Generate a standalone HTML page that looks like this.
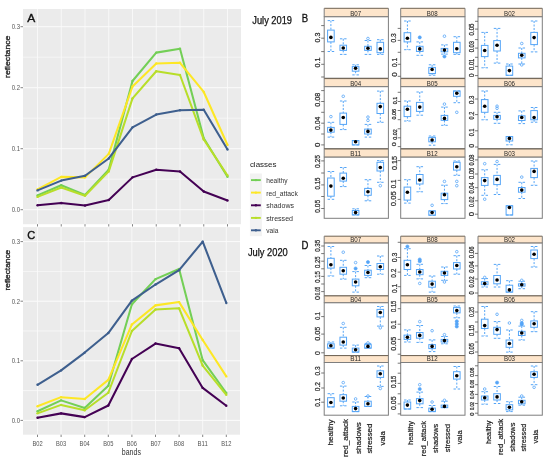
<!DOCTYPE html>
<html><head><meta charset="utf-8"><style>
html,body{margin:0;padding:0;background:#fff;width:550px;height:461px;overflow:hidden}
svg{display:block;font-family:"Liberation Sans", sans-serif;will-change:transform}
</style></head><body>
<svg width="550" height="461" viewBox="0 0 550 461">
<rect width="550" height="461" fill="#fff"/>
<rect x="23" y="9" width="218" height="215.2" fill="#EBEBEB"/>
<line x1="23" x2="241" y1="179.20" y2="179.20" stroke="#F9F9F9" stroke-width="0.8"/>
<line x1="23" x2="241" y1="118.20" y2="118.20" stroke="#F9F9F9" stroke-width="0.8"/>
<line x1="23" x2="241" y1="57.20" y2="57.20" stroke="#F9F9F9" stroke-width="0.8"/>
<line x1="23" x2="241" y1="209.70" y2="209.70" stroke="#FCFCFC" stroke-width="1"/>
<line x1="20.5" x2="23" y1="209.70" y2="209.70" stroke="#333" stroke-width="0.6"/>
<text x="20.00" y="212.10" font-size="6.8" fill="#555" text-anchor="end" textLength="8.30" lengthAdjust="spacingAndGlyphs" >0.0</text>
<line x1="23" x2="241" y1="148.70" y2="148.70" stroke="#FCFCFC" stroke-width="1"/>
<line x1="20.5" x2="23" y1="148.70" y2="148.70" stroke="#333" stroke-width="0.6"/>
<text x="20.00" y="151.10" font-size="6.8" fill="#555" text-anchor="end" textLength="8.30" lengthAdjust="spacingAndGlyphs" >0.1</text>
<line x1="23" x2="241" y1="87.70" y2="87.70" stroke="#FCFCFC" stroke-width="1"/>
<line x1="20.5" x2="23" y1="87.70" y2="87.70" stroke="#333" stroke-width="0.6"/>
<text x="20.00" y="90.10" font-size="6.8" fill="#555" text-anchor="end" textLength="8.30" lengthAdjust="spacingAndGlyphs" >0.2</text>
<line x1="23" x2="241" y1="26.70" y2="26.70" stroke="#FCFCFC" stroke-width="1"/>
<line x1="20.5" x2="23" y1="26.70" y2="26.70" stroke="#333" stroke-width="0.6"/>
<text x="20.00" y="29.10" font-size="6.8" fill="#555" text-anchor="end" textLength="8.30" lengthAdjust="spacingAndGlyphs" >0.3</text>
<line x1="37.50" x2="37.50" y1="9" y2="224.2" stroke="#FAFAFA" stroke-width="0.85"/>
<line x1="37.50" x2="37.50" y1="224.2" y2="226.5" stroke="#333" stroke-width="0.6"/>
<line x1="61.25" x2="61.25" y1="9" y2="224.2" stroke="#FAFAFA" stroke-width="0.85"/>
<line x1="61.25" x2="61.25" y1="224.2" y2="226.5" stroke="#333" stroke-width="0.6"/>
<line x1="85.00" x2="85.00" y1="9" y2="224.2" stroke="#FAFAFA" stroke-width="0.85"/>
<line x1="85.00" x2="85.00" y1="224.2" y2="226.5" stroke="#333" stroke-width="0.6"/>
<line x1="108.75" x2="108.75" y1="9" y2="224.2" stroke="#FAFAFA" stroke-width="0.85"/>
<line x1="108.75" x2="108.75" y1="224.2" y2="226.5" stroke="#333" stroke-width="0.6"/>
<line x1="132.50" x2="132.50" y1="9" y2="224.2" stroke="#FAFAFA" stroke-width="0.85"/>
<line x1="132.50" x2="132.50" y1="224.2" y2="226.5" stroke="#333" stroke-width="0.6"/>
<line x1="156.25" x2="156.25" y1="9" y2="224.2" stroke="#FAFAFA" stroke-width="0.85"/>
<line x1="156.25" x2="156.25" y1="224.2" y2="226.5" stroke="#333" stroke-width="0.6"/>
<line x1="180.00" x2="180.00" y1="9" y2="224.2" stroke="#FAFAFA" stroke-width="0.85"/>
<line x1="180.00" x2="180.00" y1="224.2" y2="226.5" stroke="#333" stroke-width="0.6"/>
<line x1="203.75" x2="203.75" y1="9" y2="224.2" stroke="#FAFAFA" stroke-width="0.85"/>
<line x1="203.75" x2="203.75" y1="224.2" y2="226.5" stroke="#333" stroke-width="0.6"/>
<line x1="227.50" x2="227.50" y1="9" y2="224.2" stroke="#FAFAFA" stroke-width="0.85"/>
<line x1="227.50" x2="227.50" y1="224.2" y2="226.5" stroke="#333" stroke-width="0.6"/>
<polyline points="37.50,195.43 61.25,185.30 85.00,194.88 108.75,169.62 132.50,80.99 156.25,52.62 180.00,48.78 203.75,138.33 227.50,176.76" fill="none" stroke="#73CF56" stroke-width="2.05" stroke-linejoin="round"/>
<circle cx="37.50" cy="195.43" r="1.2" fill="#73CF56"/>
<circle cx="61.25" cy="185.30" r="1.2" fill="#73CF56"/>
<circle cx="85.00" cy="194.88" r="1.2" fill="#73CF56"/>
<circle cx="108.75" cy="169.62" r="1.2" fill="#73CF56"/>
<circle cx="132.50" cy="80.99" r="1.2" fill="#73CF56"/>
<circle cx="156.25" cy="52.62" r="1.2" fill="#73CF56"/>
<circle cx="180.00" cy="48.78" r="1.2" fill="#73CF56"/>
<circle cx="203.75" cy="138.33" r="1.2" fill="#73CF56"/>
<circle cx="227.50" cy="176.76" r="1.2" fill="#73CF56"/>
<polyline points="37.50,189.33 61.25,176.88 85.00,177.37 108.75,153.88 132.50,86.48 156.25,63.48 180.00,62.81 203.75,91.97 227.50,145.04" fill="none" stroke="#FDE725" stroke-width="2.05" stroke-linejoin="round"/>
<circle cx="37.50" cy="189.33" r="1.2" fill="#FDE725"/>
<circle cx="61.25" cy="176.88" r="1.2" fill="#FDE725"/>
<circle cx="85.00" cy="177.37" r="1.2" fill="#FDE725"/>
<circle cx="108.75" cy="153.88" r="1.2" fill="#FDE725"/>
<circle cx="132.50" cy="86.48" r="1.2" fill="#FDE725"/>
<circle cx="156.25" cy="63.48" r="1.2" fill="#FDE725"/>
<circle cx="180.00" cy="62.81" r="1.2" fill="#FDE725"/>
<circle cx="203.75" cy="91.97" r="1.2" fill="#FDE725"/>
<circle cx="227.50" cy="145.04" r="1.2" fill="#FDE725"/>
<polyline points="37.50,205.19 61.25,202.99 85.00,205.49 108.75,199.94 132.50,177.37 156.25,169.81 180.00,171.51 203.75,191.52 227.50,200.55" fill="none" stroke="#440154" stroke-width="2.05" stroke-linejoin="round"/>
<circle cx="37.50" cy="205.19" r="1.2" fill="#440154"/>
<circle cx="61.25" cy="202.99" r="1.2" fill="#440154"/>
<circle cx="85.00" cy="205.49" r="1.2" fill="#440154"/>
<circle cx="108.75" cy="199.94" r="1.2" fill="#440154"/>
<circle cx="132.50" cy="177.37" r="1.2" fill="#440154"/>
<circle cx="156.25" cy="169.81" r="1.2" fill="#440154"/>
<circle cx="180.00" cy="171.51" r="1.2" fill="#440154"/>
<circle cx="203.75" cy="191.52" r="1.2" fill="#440154"/>
<circle cx="227.50" cy="200.55" r="1.2" fill="#440154"/>
<polyline points="37.50,196.89 61.25,187.50 85.00,195.67 108.75,171.39 132.50,98.37 156.25,71.23 180.00,75.01 203.75,139.55 227.50,175.54" fill="none" stroke="#B8DE29" stroke-width="2.05" stroke-linejoin="round"/>
<circle cx="37.50" cy="196.89" r="1.2" fill="#B8DE29"/>
<circle cx="61.25" cy="187.50" r="1.2" fill="#B8DE29"/>
<circle cx="85.00" cy="195.67" r="1.2" fill="#B8DE29"/>
<circle cx="108.75" cy="171.39" r="1.2" fill="#B8DE29"/>
<circle cx="132.50" cy="98.37" r="1.2" fill="#B8DE29"/>
<circle cx="156.25" cy="71.23" r="1.2" fill="#B8DE29"/>
<circle cx="180.00" cy="75.01" r="1.2" fill="#B8DE29"/>
<circle cx="203.75" cy="139.55" r="1.2" fill="#B8DE29"/>
<circle cx="227.50" cy="175.54" r="1.2" fill="#B8DE29"/>
<polyline points="37.50,190.42 61.25,180.60 85.00,175.72 108.75,158.46 132.50,127.35 156.25,114.54 180.00,110.27 203.75,109.78 227.50,149.49" fill="none" stroke="#3E5F8E" stroke-width="2.05" stroke-linejoin="round"/>
<circle cx="37.50" cy="190.42" r="1.2" fill="#3E5F8E"/>
<circle cx="61.25" cy="180.60" r="1.2" fill="#3E5F8E"/>
<circle cx="85.00" cy="175.72" r="1.2" fill="#3E5F8E"/>
<circle cx="108.75" cy="158.46" r="1.2" fill="#3E5F8E"/>
<circle cx="132.50" cy="127.35" r="1.2" fill="#3E5F8E"/>
<circle cx="156.25" cy="114.54" r="1.2" fill="#3E5F8E"/>
<circle cx="180.00" cy="110.27" r="1.2" fill="#3E5F8E"/>
<circle cx="203.75" cy="109.78" r="1.2" fill="#3E5F8E"/>
<circle cx="227.50" cy="149.49" r="1.2" fill="#3E5F8E"/>
<text x="27.30" y="21.90" font-size="10.8" fill="#111" text-anchor="start" textLength="8.00" lengthAdjust="spacingAndGlyphs" stroke="#111" stroke-width="0.35">A</text>
<text x="9.60" y="56.80" font-size="7.4" fill="#2a2a2a" text-anchor="middle" textLength="42.40" lengthAdjust="spacingAndGlyphs" transform="rotate(-90 9.60 56.80)" stroke="#2a2a2a" stroke-width="0.35">reflectance</text>
<rect x="23" y="227.1" width="217" height="207.6" fill="#EBEBEB"/>
<line x1="23" x2="240" y1="390.60" y2="390.60" stroke="#F9F9F9" stroke-width="0.8"/>
<line x1="23" x2="240" y1="331.00" y2="331.00" stroke="#F9F9F9" stroke-width="0.8"/>
<line x1="23" x2="240" y1="271.40" y2="271.40" stroke="#F9F9F9" stroke-width="0.8"/>
<line x1="23" x2="240" y1="420.40" y2="420.40" stroke="#FCFCFC" stroke-width="1"/>
<line x1="20.5" x2="23" y1="420.40" y2="420.40" stroke="#333" stroke-width="0.6"/>
<text x="20.00" y="422.80" font-size="6.8" fill="#555" text-anchor="end" textLength="8.30" lengthAdjust="spacingAndGlyphs" >0.0</text>
<line x1="23" x2="240" y1="360.80" y2="360.80" stroke="#FCFCFC" stroke-width="1"/>
<line x1="20.5" x2="23" y1="360.80" y2="360.80" stroke="#333" stroke-width="0.6"/>
<text x="20.00" y="363.20" font-size="6.8" fill="#555" text-anchor="end" textLength="8.30" lengthAdjust="spacingAndGlyphs" >0.1</text>
<line x1="23" x2="240" y1="301.20" y2="301.20" stroke="#FCFCFC" stroke-width="1"/>
<line x1="20.5" x2="23" y1="301.20" y2="301.20" stroke="#333" stroke-width="0.6"/>
<text x="20.00" y="303.60" font-size="6.8" fill="#555" text-anchor="end" textLength="8.30" lengthAdjust="spacingAndGlyphs" >0.2</text>
<line x1="23" x2="240" y1="241.60" y2="241.60" stroke="#FCFCFC" stroke-width="1"/>
<line x1="20.5" x2="23" y1="241.60" y2="241.60" stroke="#333" stroke-width="0.6"/>
<text x="20.00" y="244.00" font-size="6.8" fill="#555" text-anchor="end" textLength="8.30" lengthAdjust="spacingAndGlyphs" >0.3</text>
<line x1="37.50" x2="37.50" y1="227.1" y2="434.7" stroke="#FAFAFA" stroke-width="0.85"/>
<line x1="37.50" x2="37.50" y1="434.7" y2="437.0" stroke="#333" stroke-width="0.6"/>
<text x="37.50" y="445.70" font-size="8.0" fill="#555" text-anchor="middle" textLength="10.20" lengthAdjust="spacingAndGlyphs" >B02</text>
<line x1="61.10" x2="61.10" y1="227.1" y2="434.7" stroke="#FAFAFA" stroke-width="0.85"/>
<line x1="61.10" x2="61.10" y1="434.7" y2="437.0" stroke="#333" stroke-width="0.6"/>
<text x="61.10" y="445.70" font-size="8.0" fill="#555" text-anchor="middle" textLength="10.20" lengthAdjust="spacingAndGlyphs" >B03</text>
<line x1="84.70" x2="84.70" y1="227.1" y2="434.7" stroke="#FAFAFA" stroke-width="0.85"/>
<line x1="84.70" x2="84.70" y1="434.7" y2="437.0" stroke="#333" stroke-width="0.6"/>
<text x="84.70" y="445.70" font-size="8.0" fill="#555" text-anchor="middle" textLength="10.20" lengthAdjust="spacingAndGlyphs" >B04</text>
<line x1="108.30" x2="108.30" y1="227.1" y2="434.7" stroke="#FAFAFA" stroke-width="0.85"/>
<line x1="108.30" x2="108.30" y1="434.7" y2="437.0" stroke="#333" stroke-width="0.6"/>
<text x="108.30" y="445.70" font-size="8.0" fill="#555" text-anchor="middle" textLength="10.20" lengthAdjust="spacingAndGlyphs" >B05</text>
<line x1="131.90" x2="131.90" y1="227.1" y2="434.7" stroke="#FAFAFA" stroke-width="0.85"/>
<line x1="131.90" x2="131.90" y1="434.7" y2="437.0" stroke="#333" stroke-width="0.6"/>
<text x="131.90" y="445.70" font-size="8.0" fill="#555" text-anchor="middle" textLength="10.20" lengthAdjust="spacingAndGlyphs" >B06</text>
<line x1="155.50" x2="155.50" y1="227.1" y2="434.7" stroke="#FAFAFA" stroke-width="0.85"/>
<line x1="155.50" x2="155.50" y1="434.7" y2="437.0" stroke="#333" stroke-width="0.6"/>
<text x="155.50" y="445.70" font-size="8.0" fill="#555" text-anchor="middle" textLength="10.20" lengthAdjust="spacingAndGlyphs" >B07</text>
<line x1="179.10" x2="179.10" y1="227.1" y2="434.7" stroke="#FAFAFA" stroke-width="0.85"/>
<line x1="179.10" x2="179.10" y1="434.7" y2="437.0" stroke="#333" stroke-width="0.6"/>
<text x="179.10" y="445.70" font-size="8.0" fill="#555" text-anchor="middle" textLength="10.20" lengthAdjust="spacingAndGlyphs" >B08</text>
<line x1="202.70" x2="202.70" y1="227.1" y2="434.7" stroke="#FAFAFA" stroke-width="0.85"/>
<line x1="202.70" x2="202.70" y1="434.7" y2="437.0" stroke="#333" stroke-width="0.6"/>
<text x="202.70" y="445.70" font-size="8.0" fill="#555" text-anchor="middle" textLength="10.20" lengthAdjust="spacingAndGlyphs" >B11</text>
<line x1="226.30" x2="226.30" y1="227.1" y2="434.7" stroke="#FAFAFA" stroke-width="0.85"/>
<line x1="226.30" x2="226.30" y1="434.7" y2="437.0" stroke="#333" stroke-width="0.6"/>
<text x="226.30" y="445.70" font-size="8.0" fill="#555" text-anchor="middle" textLength="10.20" lengthAdjust="spacingAndGlyphs" >B12</text>
<polyline points="37.50,411.28 61.10,400.37 84.70,408.00 108.30,385.83 131.90,304.18 155.50,279.15 179.10,269.02 202.70,360.20 226.30,392.98" fill="none" stroke="#73CF56" stroke-width="2.05" stroke-linejoin="round"/>
<circle cx="37.50" cy="411.28" r="1.2" fill="#73CF56"/>
<circle cx="61.10" cy="400.37" r="1.2" fill="#73CF56"/>
<circle cx="84.70" cy="408.00" r="1.2" fill="#73CF56"/>
<circle cx="108.30" cy="385.83" r="1.2" fill="#73CF56"/>
<circle cx="131.90" cy="304.18" r="1.2" fill="#73CF56"/>
<circle cx="155.50" cy="279.15" r="1.2" fill="#73CF56"/>
<circle cx="179.10" cy="269.02" r="1.2" fill="#73CF56"/>
<circle cx="202.70" cy="360.20" r="1.2" fill="#73CF56"/>
<circle cx="226.30" cy="392.98" r="1.2" fill="#73CF56"/>
<polyline points="37.50,406.27 61.10,397.16 84.70,398.94 108.30,379.87 131.90,324.44 155.50,305.37 179.10,302.09 202.70,339.94 226.30,376.42" fill="none" stroke="#FDE725" stroke-width="2.05" stroke-linejoin="round"/>
<circle cx="37.50" cy="406.27" r="1.2" fill="#FDE725"/>
<circle cx="61.10" cy="397.16" r="1.2" fill="#FDE725"/>
<circle cx="84.70" cy="398.94" r="1.2" fill="#FDE725"/>
<circle cx="108.30" cy="379.87" r="1.2" fill="#FDE725"/>
<circle cx="131.90" cy="324.44" r="1.2" fill="#FDE725"/>
<circle cx="155.50" cy="305.37" r="1.2" fill="#FDE725"/>
<circle cx="179.10" cy="302.09" r="1.2" fill="#FDE725"/>
<circle cx="202.70" cy="339.94" r="1.2" fill="#FDE725"/>
<circle cx="226.30" cy="376.42" r="1.2" fill="#FDE725"/>
<polyline points="37.50,417.78 61.10,413.37 84.70,417.12 108.30,405.50 131.90,359.01 155.50,343.52 179.10,348.28 202.70,387.92 226.30,405.80" fill="none" stroke="#440154" stroke-width="2.05" stroke-linejoin="round"/>
<circle cx="37.50" cy="417.78" r="1.2" fill="#440154"/>
<circle cx="61.10" cy="413.37" r="1.2" fill="#440154"/>
<circle cx="84.70" cy="417.12" r="1.2" fill="#440154"/>
<circle cx="108.30" cy="405.50" r="1.2" fill="#440154"/>
<circle cx="131.90" cy="359.01" r="1.2" fill="#440154"/>
<circle cx="155.50" cy="343.52" r="1.2" fill="#440154"/>
<circle cx="179.10" cy="348.28" r="1.2" fill="#440154"/>
<circle cx="202.70" cy="387.92" r="1.2" fill="#440154"/>
<circle cx="226.30" cy="405.80" r="1.2" fill="#440154"/>
<polyline points="37.50,413.37 61.10,404.90 84.70,410.27 108.30,392.75 131.90,331.00 155.50,309.54 179.10,308.35 202.70,365.57 226.30,394.77" fill="none" stroke="#B8DE29" stroke-width="2.05" stroke-linejoin="round"/>
<circle cx="37.50" cy="413.37" r="1.2" fill="#B8DE29"/>
<circle cx="61.10" cy="404.90" r="1.2" fill="#B8DE29"/>
<circle cx="84.70" cy="410.27" r="1.2" fill="#B8DE29"/>
<circle cx="108.30" cy="392.75" r="1.2" fill="#B8DE29"/>
<circle cx="131.90" cy="331.00" r="1.2" fill="#B8DE29"/>
<circle cx="155.50" cy="309.54" r="1.2" fill="#B8DE29"/>
<circle cx="179.10" cy="308.35" r="1.2" fill="#B8DE29"/>
<circle cx="202.70" cy="365.57" r="1.2" fill="#B8DE29"/>
<circle cx="226.30" cy="394.77" r="1.2" fill="#B8DE29"/>
<polyline points="37.50,384.76 61.10,370.40 84.70,352.58 108.30,333.03 131.90,300.60 155.50,284.51 179.10,270.21 202.70,241.60 226.30,302.99" fill="none" stroke="#3E5F8E" stroke-width="2.05" stroke-linejoin="round"/>
<circle cx="37.50" cy="384.76" r="1.2" fill="#3E5F8E"/>
<circle cx="61.10" cy="370.40" r="1.2" fill="#3E5F8E"/>
<circle cx="84.70" cy="352.58" r="1.2" fill="#3E5F8E"/>
<circle cx="108.30" cy="333.03" r="1.2" fill="#3E5F8E"/>
<circle cx="131.90" cy="300.60" r="1.2" fill="#3E5F8E"/>
<circle cx="155.50" cy="284.51" r="1.2" fill="#3E5F8E"/>
<circle cx="179.10" cy="270.21" r="1.2" fill="#3E5F8E"/>
<circle cx="202.70" cy="241.60" r="1.2" fill="#3E5F8E"/>
<circle cx="226.30" cy="302.99" r="1.2" fill="#3E5F8E"/>
<text x="27.30" y="238.50" font-size="10.8" fill="#111" text-anchor="start" textLength="8.00" lengthAdjust="spacingAndGlyphs" stroke="#111" stroke-width="0.35">C</text>
<text x="9.60" y="270.15" font-size="7.4" fill="#2a2a2a" text-anchor="middle" textLength="40.70" lengthAdjust="spacingAndGlyphs" transform="rotate(-90 9.60 270.15)" stroke="#2a2a2a" stroke-width="0.35">reflectance</text>
<text x="121.80" y="455.30" font-size="9" fill="#333" text-anchor="start" textLength="19.10" lengthAdjust="spacingAndGlyphs" >bands</text>
<text x="252.30" y="23.60" font-size="10" fill="#111" text-anchor="start" textLength="39.70" lengthAdjust="spacingAndGlyphs" stroke="#111" stroke-width="0.25">July 2019</text>
<text x="247.90" y="255.80" font-size="10" fill="#111" text-anchor="start" textLength="39.90" lengthAdjust="spacingAndGlyphs" stroke="#111" stroke-width="0.25">July 2020</text>
<text x="301.70" y="21.80" font-size="10.6" fill="#111" text-anchor="start" textLength="6.40" lengthAdjust="spacingAndGlyphs" stroke="#111" stroke-width="0.3">B</text>
<text x="301.60" y="248.90" font-size="11.6" fill="#111" text-anchor="start" textLength="6.90" lengthAdjust="spacingAndGlyphs" stroke="#111" stroke-width="0.35">D</text>
<text x="249.90" y="167.00" font-size="8" fill="#222" text-anchor="start" textLength="26.50" lengthAdjust="spacingAndGlyphs" >classes</text>
<rect x="249.9" y="173.5" width="12" height="62.7" fill="#F2F2F2"/>
<line x1="251" x2="260.8" y1="180.1" y2="180.1" stroke="#73CF56" stroke-width="1.9"/>
<circle cx="255.9" cy="180.1" r="1.2" fill="#73CF56"/>
<text x="266.30" y="183.00" font-size="7.6" fill="#333" text-anchor="start" textLength="21.20" lengthAdjust="spacingAndGlyphs" >healthy</text>
<line x1="251" x2="260.8" y1="192.6" y2="192.6" stroke="#FDE725" stroke-width="1.9"/>
<circle cx="255.9" cy="192.6" r="1.2" fill="#FDE725"/>
<text x="266.30" y="195.50" font-size="7.6" fill="#333" text-anchor="start" textLength="31.60" lengthAdjust="spacingAndGlyphs" >red_attack</text>
<line x1="251" x2="260.8" y1="205.3" y2="205.3" stroke="#440154" stroke-width="1.9"/>
<circle cx="255.9" cy="205.3" r="1.2" fill="#440154"/>
<text x="266.30" y="208.20" font-size="7.6" fill="#333" text-anchor="start" textLength="27.70" lengthAdjust="spacingAndGlyphs" >shadows</text>
<line x1="251" x2="260.8" y1="217.9" y2="217.9" stroke="#B8DE29" stroke-width="1.9"/>
<circle cx="255.9" cy="217.9" r="1.2" fill="#B8DE29"/>
<text x="266.30" y="220.80" font-size="7.6" fill="#333" text-anchor="start" textLength="26.70" lengthAdjust="spacingAndGlyphs" >stressed</text>
<line x1="251" x2="260.8" y1="230.3" y2="230.3" stroke="#3E5F8E" stroke-width="1.9"/>
<circle cx="255.9" cy="230.3" r="1.2" fill="#3E5F8E"/>
<text x="266.30" y="233.20" font-size="7.6" fill="#333" text-anchor="start" textLength="12.10" lengthAdjust="spacingAndGlyphs" >vaia</text>
<rect x="324.2" y="8.3" width="64.19999999999999" height="8.5" fill="#FDE5CB"/>
<line x1="324.2" x2="388.4" y1="8.3" y2="8.3" stroke="#6E6252" stroke-width="1"/>
<line x1="324.2" x2="388.4" y1="16.8" y2="16.8" stroke="#6E6252" stroke-width="1"/>
<text x="355.70" y="15.70" font-size="6.6" fill="#2a2a2a" text-anchor="middle" textLength="11.00" lengthAdjust="spacingAndGlyphs" >B07</text>
<rect x="324.2" y="16.8" width="64.19999999999999" height="61.400000000000006" fill="#FFFFFF" stroke="#7E7E7E" stroke-width="1"/>
<line x1="324.2" x2="324.2" y1="8.3" y2="16.8" stroke="#7E7E7E" stroke-width="1"/>
<line x1="388.4" x2="388.4" y1="8.3" y2="16.8" stroke="#7E7E7E" stroke-width="1"/>
<line x1="321.2" x2="324.2" y1="25.6" y2="25.6" stroke="#555" stroke-width="0.8"/>
<line x1="321.2" x2="324.2" y1="38.2" y2="38.2" stroke="#555" stroke-width="0.8"/>
<line x1="321.2" x2="324.2" y1="51.6" y2="51.6" stroke="#555" stroke-width="0.8"/>
<line x1="321.2" x2="324.2" y1="64.3" y2="64.3" stroke="#555" stroke-width="0.8"/>
<line x1="321.2" x2="324.2" y1="77" y2="77" stroke="#555" stroke-width="0.8"/>
<text x="320.00" y="37.50" font-size="7.3" fill="#333" text-anchor="middle" textLength="9.90" lengthAdjust="spacingAndGlyphs" transform="rotate(-90 320.00 37.50)" stroke="#333" stroke-width="0.28">0.3</text>
<text x="320.00" y="62.50" font-size="7.3" fill="#333" text-anchor="middle" textLength="10.00" lengthAdjust="spacingAndGlyphs" transform="rotate(-90 320.00 62.50)" stroke="#333" stroke-width="0.28">0.1</text>
<rect x="327.60" y="30.1" width="6.6" height="11.80" fill="none" stroke="#55A5F7" stroke-width="1"/>
<line x1="330.90" x2="330.90" y1="20.6" y2="30.1" stroke="#55A5F7" stroke-width="1" stroke-dasharray="2 1.5"/>
<line x1="330.90" x2="330.90" y1="41.9" y2="51.5" stroke="#55A5F7" stroke-width="1" stroke-dasharray="2 1.5"/>
<line x1="327.60" x2="334.20" y1="20.6" y2="20.6" stroke="#55A5F7" stroke-width="1" stroke-dasharray="2.4 1.8"/>
<line x1="327.60" x2="334.20" y1="51.5" y2="51.5" stroke="#55A5F7" stroke-width="1" stroke-dasharray="2.4 1.8"/>
<circle cx="330.90" cy="37.4" r="1.8" fill="#000"/>
<rect x="339.95" y="45.2" width="6.6" height="5.20" fill="none" stroke="#55A5F7" stroke-width="1"/>
<line x1="343.25" x2="343.25" y1="38.8" y2="45.2" stroke="#55A5F7" stroke-width="1" stroke-dasharray="2 1.5"/>
<line x1="343.25" x2="343.25" y1="50.4" y2="54.4" stroke="#55A5F7" stroke-width="1" stroke-dasharray="2 1.5"/>
<line x1="339.95" x2="346.55" y1="38.8" y2="38.8" stroke="#55A5F7" stroke-width="1" stroke-dasharray="2.4 1.8"/>
<line x1="339.95" x2="346.55" y1="54.4" y2="54.4" stroke="#55A5F7" stroke-width="1" stroke-dasharray="2.4 1.8"/>
<circle cx="343.25" cy="48.0" r="1.8" fill="#000"/>
<rect x="352.30" y="66.6" width="6.6" height="4.60" fill="none" stroke="#55A5F7" stroke-width="1"/>
<line x1="355.60" x2="355.60" y1="64.8" y2="66.6" stroke="#55A5F7" stroke-width="1" stroke-dasharray="2 1.5"/>
<line x1="355.60" x2="355.60" y1="71.2" y2="74.9" stroke="#55A5F7" stroke-width="1" stroke-dasharray="2 1.5"/>
<line x1="352.30" x2="358.90" y1="64.8" y2="64.8" stroke="#55A5F7" stroke-width="1" stroke-dasharray="2.4 1.8"/>
<line x1="352.30" x2="358.90" y1="74.9" y2="74.9" stroke="#55A5F7" stroke-width="1" stroke-dasharray="2.4 1.8"/>
<circle cx="355.60" cy="68.3" r="1.8" fill="#000"/>
<rect x="364.65" y="46.3" width="6.6" height="4.10" fill="none" stroke="#55A5F7" stroke-width="1"/>
<line x1="367.95" x2="367.95" y1="40.5" y2="46.3" stroke="#55A5F7" stroke-width="1" stroke-dasharray="2 1.5"/>
<line x1="367.95" x2="367.95" y1="50.4" y2="54.4" stroke="#55A5F7" stroke-width="1" stroke-dasharray="2 1.5"/>
<line x1="364.65" x2="371.25" y1="40.5" y2="40.5" stroke="#55A5F7" stroke-width="1" stroke-dasharray="2.4 1.8"/>
<line x1="364.65" x2="371.25" y1="54.4" y2="54.4" stroke="#55A5F7" stroke-width="1" stroke-dasharray="2.4 1.8"/>
<circle cx="367.95" cy="38.5" r="1.3" fill="none" stroke="#55A5F7" stroke-width="0.8"/>
<circle cx="367.95" cy="48.2" r="1.8" fill="#000"/>
<rect x="377.00" y="42.3" width="6.6" height="10.40" fill="none" stroke="#55A5F7" stroke-width="1"/>
<line x1="380.30" x2="380.30" y1="39.7" y2="42.3" stroke="#55A5F7" stroke-width="1" stroke-dasharray="2 1.5"/>
<line x1="380.30" x2="380.30" y1="52.7" y2="54.4" stroke="#55A5F7" stroke-width="1" stroke-dasharray="2 1.5"/>
<line x1="377.00" x2="383.60" y1="39.7" y2="39.7" stroke="#55A5F7" stroke-width="1" stroke-dasharray="2.4 1.8"/>
<line x1="377.00" x2="383.60" y1="54.4" y2="54.4" stroke="#55A5F7" stroke-width="1" stroke-dasharray="2.4 1.8"/>
<circle cx="380.30" cy="48.9" r="1.8" fill="#000"/>
<rect x="324.2" y="236.2" width="64.19999999999999" height="6.900000000000006" fill="#FDE5CB"/>
<line x1="324.2" x2="388.4" y1="236.2" y2="236.2" stroke="#6E6252" stroke-width="1"/>
<line x1="324.2" x2="388.4" y1="243.1" y2="243.1" stroke="#6E6252" stroke-width="1"/>
<text x="355.70" y="242.00" font-size="6.6" fill="#2a2a2a" text-anchor="middle" textLength="11.00" lengthAdjust="spacingAndGlyphs" >B07</text>
<rect x="324.2" y="243.1" width="64.19999999999999" height="52.70000000000002" fill="#FFFFFF" stroke="#7E7E7E" stroke-width="1"/>
<line x1="324.2" x2="324.2" y1="236.2" y2="243.1" stroke="#7E7E7E" stroke-width="1"/>
<line x1="388.4" x2="388.4" y1="236.2" y2="243.1" stroke="#7E7E7E" stroke-width="1"/>
<line x1="321.2" x2="324.2" y1="246" y2="246" stroke="#555" stroke-width="0.8"/>
<line x1="321.2" x2="324.2" y1="253.6" y2="253.6" stroke="#555" stroke-width="0.8"/>
<line x1="321.2" x2="324.2" y1="261.2" y2="261.2" stroke="#555" stroke-width="0.8"/>
<line x1="321.2" x2="324.2" y1="268.8" y2="268.8" stroke="#555" stroke-width="0.8"/>
<line x1="321.2" x2="324.2" y1="276.4" y2="276.4" stroke="#555" stroke-width="0.8"/>
<line x1="321.2" x2="324.2" y1="284" y2="284" stroke="#555" stroke-width="0.8"/>
<line x1="321.2" x2="324.2" y1="291.6" y2="291.6" stroke="#555" stroke-width="0.8"/>
<text x="320.00" y="245.80" font-size="7.5" fill="#333" text-anchor="middle" textLength="12.00" lengthAdjust="spacingAndGlyphs" transform="rotate(-90 320.00 245.80)" stroke="#333" stroke-width="0.28">0.35</text>
<text x="320.00" y="262.20" font-size="7.5" fill="#333" text-anchor="middle" textLength="11.40" lengthAdjust="spacingAndGlyphs" transform="rotate(-90 320.00 262.20)" stroke="#333" stroke-width="0.28">0.25</text>
<text x="320.00" y="277.00" font-size="7.5" fill="#333" text-anchor="middle" textLength="11.50" lengthAdjust="spacingAndGlyphs" transform="rotate(-90 320.00 277.00)" stroke="#333" stroke-width="0.28">0.15</text>
<text x="320.00" y="291.00" font-size="7.5" fill="#333" text-anchor="middle" textLength="8.50" lengthAdjust="spacingAndGlyphs" transform="rotate(-90 320.00 291.00)" stroke="#333" stroke-width="0.28">0.05</text>
<text x="320.00" y="298.00" font-size="7.5" fill="#333" text-anchor="middle" textLength="4.00" lengthAdjust="spacingAndGlyphs" transform="rotate(-90 320.00 298.00)" stroke="#333" stroke-width="0.28">0</text>
<rect x="327.60" y="258.3" width="6.6" height="9.80" fill="none" stroke="#55A5F7" stroke-width="1"/>
<line x1="330.90" x2="330.90" y1="246.5" y2="258.3" stroke="#55A5F7" stroke-width="1" stroke-dasharray="2 1.5"/>
<line x1="330.90" x2="330.90" y1="268.1" y2="276.0" stroke="#55A5F7" stroke-width="1" stroke-dasharray="2 1.5"/>
<line x1="327.60" x2="334.20" y1="246.5" y2="246.5" stroke="#55A5F7" stroke-width="1" stroke-dasharray="2.4 1.8"/>
<line x1="327.60" x2="334.20" y1="276.0" y2="276.0" stroke="#55A5F7" stroke-width="1" stroke-dasharray="2.4 1.8"/>
<circle cx="330.90" cy="264.7" r="1.8" fill="#000"/>
<rect x="339.95" y="267.3" width="6.6" height="6.90" fill="none" stroke="#55A5F7" stroke-width="1"/>
<line x1="343.25" x2="343.25" y1="260.3" y2="267.3" stroke="#55A5F7" stroke-width="1" stroke-dasharray="2 1.5"/>
<line x1="343.25" x2="343.25" y1="274.2" y2="279.1" stroke="#55A5F7" stroke-width="1" stroke-dasharray="2 1.5"/>
<line x1="339.95" x2="346.55" y1="260.3" y2="260.3" stroke="#55A5F7" stroke-width="1" stroke-dasharray="2.4 1.8"/>
<line x1="339.95" x2="346.55" y1="279.1" y2="279.1" stroke="#55A5F7" stroke-width="1" stroke-dasharray="2.4 1.8"/>
<circle cx="343.25" cy="252.2" r="1.3" fill="none" stroke="#55A5F7" stroke-width="0.8"/>
<circle cx="343.25" cy="270.7" r="1.8" fill="#000"/>
<rect x="352.30" y="279.1" width="6.6" height="6.70" fill="none" stroke="#55A5F7" stroke-width="1"/>
<line x1="355.60" x2="355.60" y1="271.6" y2="279.1" stroke="#55A5F7" stroke-width="1" stroke-dasharray="2 1.5"/>
<line x1="355.60" x2="355.60" y1="285.8" y2="292.1" stroke="#55A5F7" stroke-width="1" stroke-dasharray="2 1.5"/>
<line x1="352.30" x2="358.90" y1="271.6" y2="271.6" stroke="#55A5F7" stroke-width="1" stroke-dasharray="2.4 1.8"/>
<line x1="352.30" x2="358.90" y1="292.1" y2="292.1" stroke="#55A5F7" stroke-width="1" stroke-dasharray="2.4 1.8"/>
<circle cx="355.60" cy="262.6" r="1.3" fill="none" stroke="#55A5F7" stroke-width="0.8"/>
<circle cx="355.60" cy="268.5" r="1.6" fill="#55A5F7" stroke="#55A5F7" stroke-width="0.6"/>
<circle cx="355.60" cy="282.0" r="1.8" fill="#000"/>
<rect x="364.65" y="270.2" width="6.6" height="5.20" fill="none" stroke="#55A5F7" stroke-width="1"/>
<line x1="367.95" x2="367.95" y1="265.5" y2="270.2" stroke="#55A5F7" stroke-width="1" stroke-dasharray="2 1.5"/>
<line x1="367.95" x2="367.95" y1="275.4" y2="277.7" stroke="#55A5F7" stroke-width="1" stroke-dasharray="2 1.5"/>
<line x1="364.65" x2="371.25" y1="265.5" y2="265.5" stroke="#55A5F7" stroke-width="1" stroke-dasharray="2.4 1.8"/>
<line x1="364.65" x2="371.25" y1="277.7" y2="277.7" stroke="#55A5F7" stroke-width="1" stroke-dasharray="2.4 1.8"/>
<circle cx="367.95" cy="262.1" r="1.6" fill="#55A5F7" stroke="#55A5F7" stroke-width="0.6"/>
<circle cx="367.95" cy="272.5" r="1.8" fill="#000"/>
<rect x="377.00" y="263.5" width="6.6" height="6.00" fill="none" stroke="#55A5F7" stroke-width="1"/>
<line x1="380.30" x2="380.30" y1="256.0" y2="263.5" stroke="#55A5F7" stroke-width="1" stroke-dasharray="2 1.5"/>
<line x1="380.30" x2="380.30" y1="269.5" y2="274.2" stroke="#55A5F7" stroke-width="1" stroke-dasharray="2 1.5"/>
<line x1="377.00" x2="383.60" y1="256.0" y2="256.0" stroke="#55A5F7" stroke-width="1" stroke-dasharray="2.4 1.8"/>
<line x1="377.00" x2="383.60" y1="274.2" y2="274.2" stroke="#55A5F7" stroke-width="1" stroke-dasharray="2.4 1.8"/>
<circle cx="380.30" cy="266.8" r="1.8" fill="#000"/>
<rect x="400.7" y="8.3" width="64.30000000000001" height="8.5" fill="#FDE5CB"/>
<line x1="400.7" x2="465.0" y1="8.3" y2="8.3" stroke="#6E6252" stroke-width="1"/>
<line x1="400.7" x2="465.0" y1="16.8" y2="16.8" stroke="#6E6252" stroke-width="1"/>
<text x="432.25" y="15.70" font-size="6.6" fill="#2a2a2a" text-anchor="middle" textLength="11.00" lengthAdjust="spacingAndGlyphs" >B08</text>
<rect x="400.7" y="16.8" width="64.30000000000001" height="61.400000000000006" fill="#FFFFFF" stroke="#7E7E7E" stroke-width="1"/>
<line x1="400.7" x2="400.7" y1="8.3" y2="16.8" stroke="#7E7E7E" stroke-width="1"/>
<line x1="465.0" x2="465.0" y1="8.3" y2="16.8" stroke="#7E7E7E" stroke-width="1"/>
<line x1="397.7" x2="400.7" y1="28.4" y2="28.4" stroke="#555" stroke-width="0.8"/>
<line x1="397.7" x2="400.7" y1="40.4" y2="40.4" stroke="#555" stroke-width="0.8"/>
<line x1="397.7" x2="400.7" y1="52.3" y2="52.3" stroke="#555" stroke-width="0.8"/>
<line x1="397.7" x2="400.7" y1="64.3" y2="64.3" stroke="#555" stroke-width="0.8"/>
<line x1="397.7" x2="400.7" y1="76.3" y2="76.3" stroke="#555" stroke-width="0.8"/>
<text x="396.50" y="37.90" font-size="7.1" fill="#333" text-anchor="middle" textLength="9.20" lengthAdjust="spacingAndGlyphs" transform="rotate(-90 396.50 37.90)" stroke="#333" stroke-width="0.28">0.3</text>
<text x="396.50" y="62.50" font-size="7.1" fill="#333" text-anchor="middle" textLength="9.10" lengthAdjust="spacingAndGlyphs" transform="rotate(-90 396.50 62.50)" stroke="#333" stroke-width="0.28">0.1</text>
<text x="396.50" y="74.50" font-size="7.1" fill="#333" text-anchor="middle" textLength="4.50" lengthAdjust="spacingAndGlyphs" transform="rotate(-90 396.50 74.50)" stroke="#333" stroke-width="0.28">0</text>
<rect x="404.10" y="32.7" width="6.6" height="9.20" fill="none" stroke="#55A5F7" stroke-width="1"/>
<line x1="407.40" x2="407.40" y1="21" y2="32.7" stroke="#55A5F7" stroke-width="1" stroke-dasharray="2 1.5"/>
<line x1="407.40" x2="407.40" y1="41.9" y2="49.7" stroke="#55A5F7" stroke-width="1" stroke-dasharray="2 1.5"/>
<line x1="404.10" x2="410.70" y1="21" y2="21" stroke="#55A5F7" stroke-width="1" stroke-dasharray="2.4 1.8"/>
<line x1="404.10" x2="410.70" y1="49.7" y2="49.7" stroke="#55A5F7" stroke-width="1" stroke-dasharray="2.4 1.8"/>
<circle cx="407.40" cy="38.3" r="1.8" fill="#000"/>
<rect x="416.45" y="46.3" width="6.6" height="5.20" fill="none" stroke="#55A5F7" stroke-width="1"/>
<line x1="419.75" x2="419.75" y1="41.9" y2="46.3" stroke="#55A5F7" stroke-width="1" stroke-dasharray="2 1.5"/>
<line x1="419.75" x2="419.75" y1="51.5" y2="55.3" stroke="#55A5F7" stroke-width="1" stroke-dasharray="2 1.5"/>
<line x1="416.45" x2="423.05" y1="41.9" y2="41.9" stroke="#55A5F7" stroke-width="1" stroke-dasharray="2.4 1.8"/>
<line x1="416.45" x2="423.05" y1="55.3" y2="55.3" stroke="#55A5F7" stroke-width="1" stroke-dasharray="2.4 1.8"/>
<circle cx="419.75" cy="37.4" r="1.6" fill="#55A5F7" stroke="#55A5F7" stroke-width="0.6"/>
<circle cx="419.75" cy="48.9" r="1.8" fill="#000"/>
<rect x="428.80" y="67.4" width="6.6" height="6.10" fill="none" stroke="#55A5F7" stroke-width="1"/>
<line x1="432.10" x2="432.10" y1="64.8" y2="67.4" stroke="#55A5F7" stroke-width="1" stroke-dasharray="2 1.5"/>
<line x1="432.10" x2="432.10" y1="73.5" y2="75.2" stroke="#55A5F7" stroke-width="1" stroke-dasharray="2 1.5"/>
<line x1="428.80" x2="435.40" y1="64.8" y2="64.8" stroke="#55A5F7" stroke-width="1" stroke-dasharray="2.4 1.8"/>
<line x1="428.80" x2="435.40" y1="75.2" y2="75.2" stroke="#55A5F7" stroke-width="1" stroke-dasharray="2.4 1.8"/>
<circle cx="432.10" cy="69.5" r="1.8" fill="#000"/>
<rect x="441.15" y="48.4" width="6.6" height="3.40" fill="none" stroke="#55A5F7" stroke-width="1"/>
<line x1="444.45" x2="444.45" y1="44.9" y2="48.4" stroke="#55A5F7" stroke-width="1" stroke-dasharray="2 1.5"/>
<line x1="444.45" x2="444.45" y1="51.8" y2="54.1" stroke="#55A5F7" stroke-width="1" stroke-dasharray="2 1.5"/>
<line x1="441.15" x2="447.75" y1="44.9" y2="44.9" stroke="#55A5F7" stroke-width="1" stroke-dasharray="2.4 1.8"/>
<line x1="441.15" x2="447.75" y1="54.1" y2="54.1" stroke="#55A5F7" stroke-width="1" stroke-dasharray="2.4 1.8"/>
<circle cx="444.45" cy="36.2" r="1.3" fill="none" stroke="#55A5F7" stroke-width="0.8"/>
<circle cx="444.45" cy="56.5" r="1.6" fill="#55A5F7" stroke="#55A5F7" stroke-width="0.6"/>
<circle cx="444.45" cy="50.1" r="1.8" fill="#000"/>
<rect x="453.50" y="42.3" width="6.6" height="10.40" fill="none" stroke="#55A5F7" stroke-width="1"/>
<line x1="456.80" x2="456.80" y1="36.7" y2="42.3" stroke="#55A5F7" stroke-width="1" stroke-dasharray="2 1.5"/>
<line x1="456.80" x2="456.80" y1="52.7" y2="54.4" stroke="#55A5F7" stroke-width="1" stroke-dasharray="2 1.5"/>
<line x1="453.50" x2="460.10" y1="36.7" y2="36.7" stroke="#55A5F7" stroke-width="1" stroke-dasharray="2.4 1.8"/>
<line x1="453.50" x2="460.10" y1="54.4" y2="54.4" stroke="#55A5F7" stroke-width="1" stroke-dasharray="2.4 1.8"/>
<circle cx="456.80" cy="48.7" r="1.8" fill="#000"/>
<rect x="400.7" y="236.2" width="64.30000000000001" height="6.900000000000006" fill="#FDE5CB"/>
<line x1="400.7" x2="465.0" y1="236.2" y2="236.2" stroke="#6E6252" stroke-width="1"/>
<line x1="400.7" x2="465.0" y1="243.1" y2="243.1" stroke="#6E6252" stroke-width="1"/>
<text x="432.25" y="242.00" font-size="6.6" fill="#2a2a2a" text-anchor="middle" textLength="11.00" lengthAdjust="spacingAndGlyphs" >B08</text>
<rect x="400.7" y="243.1" width="64.30000000000001" height="52.70000000000002" fill="#FFFFFF" stroke="#7E7E7E" stroke-width="1"/>
<line x1="400.7" x2="400.7" y1="236.2" y2="243.1" stroke="#7E7E7E" stroke-width="1"/>
<line x1="465.0" x2="465.0" y1="236.2" y2="243.1" stroke="#7E7E7E" stroke-width="1"/>
<line x1="397.7" x2="400.7" y1="242.3" y2="242.3" stroke="#555" stroke-width="0.8"/>
<line x1="397.7" x2="400.7" y1="257.5" y2="257.5" stroke="#555" stroke-width="0.8"/>
<line x1="397.7" x2="400.7" y1="272.1" y2="272.1" stroke="#555" stroke-width="0.8"/>
<line x1="397.7" x2="400.7" y1="286.7" y2="286.7" stroke="#555" stroke-width="0.8"/>
<text x="396.50" y="257.50" font-size="7.7" fill="#333" text-anchor="middle" textLength="9.70" lengthAdjust="spacingAndGlyphs" transform="rotate(-90 396.50 257.50)" stroke="#333" stroke-width="0.28">0.3</text>
<text x="396.50" y="273.20" font-size="7.7" fill="#333" text-anchor="middle" textLength="9.10" lengthAdjust="spacingAndGlyphs" transform="rotate(-90 396.50 273.20)" stroke="#333" stroke-width="0.28">0.2</text>
<text x="396.50" y="288.50" font-size="7.7" fill="#333" text-anchor="middle" textLength="9.10" lengthAdjust="spacingAndGlyphs" transform="rotate(-90 396.50 288.50)" stroke="#333" stroke-width="0.28">0.1</text>
<rect x="404.10" y="260.3" width="6.6" height="9.20" fill="none" stroke="#55A5F7" stroke-width="1"/>
<line x1="407.40" x2="407.40" y1="248.7" y2="260.3" stroke="#55A5F7" stroke-width="1" stroke-dasharray="2 1.5"/>
<line x1="407.40" x2="407.40" y1="269.5" y2="275.4" stroke="#55A5F7" stroke-width="1" stroke-dasharray="2 1.5"/>
<line x1="404.10" x2="410.70" y1="248.7" y2="248.7" stroke="#55A5F7" stroke-width="1" stroke-dasharray="2.4 1.8"/>
<line x1="404.10" x2="410.70" y1="275.4" y2="275.4" stroke="#55A5F7" stroke-width="1" stroke-dasharray="2.4 1.8"/>
<circle cx="407.40" cy="246.5" r="1.6" fill="#55A5F7" stroke="#55A5F7" stroke-width="0.6"/>
<circle cx="407.40" cy="264.7" r="1.8" fill="#000"/>
<rect x="416.45" y="269.5" width="6.6" height="5.20" fill="none" stroke="#55A5F7" stroke-width="1"/>
<line x1="419.75" x2="419.75" y1="264.3" y2="269.5" stroke="#55A5F7" stroke-width="1" stroke-dasharray="2 1.5"/>
<line x1="419.75" x2="419.75" y1="274.7" y2="278.9" stroke="#55A5F7" stroke-width="1" stroke-dasharray="2 1.5"/>
<line x1="416.45" x2="423.05" y1="264.3" y2="264.3" stroke="#55A5F7" stroke-width="1" stroke-dasharray="2.4 1.8"/>
<line x1="416.45" x2="423.05" y1="278.9" y2="278.9" stroke="#55A5F7" stroke-width="1" stroke-dasharray="2.4 1.8"/>
<circle cx="419.75" cy="259.5" r="1.6" fill="#55A5F7" stroke="#55A5F7" stroke-width="0.6"/>
<circle cx="419.75" cy="261.2" r="1.6" fill="#55A5F7" stroke="#55A5F7" stroke-width="0.6"/>
<circle cx="419.75" cy="283.4" r="1.3" fill="none" stroke="#55A5F7" stroke-width="0.8"/>
<circle cx="419.75" cy="272.0" r="1.8" fill="#000"/>
<rect x="428.80" y="281.2" width="6.6" height="6.00" fill="none" stroke="#55A5F7" stroke-width="1"/>
<line x1="432.10" x2="432.10" y1="276.0" y2="281.2" stroke="#55A5F7" stroke-width="1" stroke-dasharray="2 1.5"/>
<line x1="432.10" x2="432.10" y1="287.2" y2="292.1" stroke="#55A5F7" stroke-width="1" stroke-dasharray="2 1.5"/>
<line x1="428.80" x2="435.40" y1="276.0" y2="276.0" stroke="#55A5F7" stroke-width="1" stroke-dasharray="2.4 1.8"/>
<line x1="428.80" x2="435.40" y1="292.1" y2="292.1" stroke="#55A5F7" stroke-width="1" stroke-dasharray="2.4 1.8"/>
<circle cx="432.10" cy="284.1" r="1.8" fill="#000"/>
<rect x="441.15" y="271.3" width="6.6" height="4.10" fill="none" stroke="#55A5F7" stroke-width="1"/>
<line x1="444.45" x2="444.45" y1="267.0" y2="271.3" stroke="#55A5F7" stroke-width="1" stroke-dasharray="2 1.5"/>
<line x1="444.45" x2="444.45" y1="275.4" y2="280.3" stroke="#55A5F7" stroke-width="1" stroke-dasharray="2 1.5"/>
<line x1="441.15" x2="447.75" y1="267.0" y2="267.0" stroke="#55A5F7" stroke-width="1" stroke-dasharray="2.4 1.8"/>
<line x1="441.15" x2="447.75" y1="280.3" y2="280.3" stroke="#55A5F7" stroke-width="1" stroke-dasharray="2.4 1.8"/>
<circle cx="444.45" cy="282.0" r="1.3" fill="none" stroke="#55A5F7" stroke-width="0.8"/>
<circle cx="444.45" cy="273.0" r="1.8" fill="#000"/>
<rect x="453.50" y="262.6" width="6.6" height="6.40" fill="none" stroke="#55A5F7" stroke-width="1"/>
<line x1="456.80" x2="456.80" y1="255.7" y2="262.6" stroke="#55A5F7" stroke-width="1" stroke-dasharray="2 1.5"/>
<line x1="456.80" x2="456.80" y1="269.0" y2="274.2" stroke="#55A5F7" stroke-width="1" stroke-dasharray="2 1.5"/>
<line x1="453.50" x2="460.10" y1="255.7" y2="255.7" stroke="#55A5F7" stroke-width="1" stroke-dasharray="2.4 1.8"/>
<line x1="453.50" x2="460.10" y1="274.2" y2="274.2" stroke="#55A5F7" stroke-width="1" stroke-dasharray="2.4 1.8"/>
<circle cx="456.80" cy="251.7" r="1.3" fill="none" stroke="#55A5F7" stroke-width="0.8"/>
<circle cx="456.80" cy="265.5" r="1.8" fill="#000"/>
<rect x="478.0" y="8.3" width="64.29999999999995" height="8.5" fill="#FDE5CB"/>
<line x1="478.0" x2="542.3" y1="8.3" y2="8.3" stroke="#6E6252" stroke-width="1"/>
<line x1="478.0" x2="542.3" y1="16.8" y2="16.8" stroke="#6E6252" stroke-width="1"/>
<text x="509.55" y="15.70" font-size="6.6" fill="#2a2a2a" text-anchor="middle" textLength="11.00" lengthAdjust="spacingAndGlyphs" >B02</text>
<rect x="478.0" y="16.8" width="64.29999999999995" height="61.400000000000006" fill="#FFFFFF" stroke="#7E7E7E" stroke-width="1"/>
<line x1="478.0" x2="478.0" y1="8.3" y2="16.8" stroke="#7E7E7E" stroke-width="1"/>
<line x1="542.3" x2="542.3" y1="8.3" y2="16.8" stroke="#7E7E7E" stroke-width="1"/>
<line x1="475.0" x2="478.0" y1="21.3" y2="21.3" stroke="#555" stroke-width="0.8"/>
<line x1="475.0" x2="478.0" y1="29.1" y2="29.1" stroke="#555" stroke-width="0.8"/>
<line x1="475.0" x2="478.0" y1="39.6" y2="39.6" stroke="#555" stroke-width="0.8"/>
<line x1="475.0" x2="478.0" y1="48.1" y2="48.1" stroke="#555" stroke-width="0.8"/>
<line x1="475.0" x2="478.0" y1="57.3" y2="57.3" stroke="#555" stroke-width="0.8"/>
<line x1="475.0" x2="478.0" y1="66.4" y2="66.4" stroke="#555" stroke-width="0.8"/>
<line x1="475.0" x2="478.0" y1="75.6" y2="75.6" stroke="#555" stroke-width="0.8"/>
<text x="473.80" y="29.50" font-size="6.7" fill="#333" text-anchor="middle" textLength="12.00" lengthAdjust="spacingAndGlyphs" transform="rotate(-90 473.80 29.50)" stroke="#333" stroke-width="0.28">0.05</text>
<text x="473.80" y="46.60" font-size="6.7" fill="#333" text-anchor="middle" textLength="11.30" lengthAdjust="spacingAndGlyphs" transform="rotate(-90 473.80 46.60)" stroke="#333" stroke-width="0.28">0.03</text>
<text x="473.80" y="64.30" font-size="6.7" fill="#333" text-anchor="middle" textLength="11.20" lengthAdjust="spacingAndGlyphs" transform="rotate(-90 473.80 64.30)" stroke="#333" stroke-width="0.28">0.01</text>
<text x="473.80" y="75.30" font-size="6.7" fill="#333" text-anchor="middle" textLength="3.80" lengthAdjust="spacingAndGlyphs" transform="rotate(-90 473.80 75.30)" stroke="#333" stroke-width="0.28">0</text>
<rect x="481.40" y="45.4" width="6.6" height="11.20" fill="none" stroke="#55A5F7" stroke-width="1"/>
<line x1="484.70" x2="484.70" y1="32.4" y2="45.4" stroke="#55A5F7" stroke-width="1" stroke-dasharray="2 1.5"/>
<line x1="484.70" x2="484.70" y1="56.6" y2="67.8" stroke="#55A5F7" stroke-width="1" stroke-dasharray="2 1.5"/>
<line x1="481.40" x2="488.00" y1="32.4" y2="32.4" stroke="#55A5F7" stroke-width="1" stroke-dasharray="2.4 1.8"/>
<line x1="481.40" x2="488.00" y1="67.8" y2="67.8" stroke="#55A5F7" stroke-width="1" stroke-dasharray="2.4 1.8"/>
<circle cx="484.70" cy="50.5" r="1.8" fill="#000"/>
<rect x="493.75" y="40.6" width="6.6" height="10.40" fill="none" stroke="#55A5F7" stroke-width="1"/>
<line x1="497.05" x2="497.05" y1="28.4" y2="40.6" stroke="#55A5F7" stroke-width="1" stroke-dasharray="2 1.5"/>
<line x1="497.05" x2="497.05" y1="51.0" y2="63.1" stroke="#55A5F7" stroke-width="1" stroke-dasharray="2 1.5"/>
<line x1="493.75" x2="500.35" y1="28.4" y2="28.4" stroke="#55A5F7" stroke-width="1" stroke-dasharray="2.4 1.8"/>
<line x1="493.75" x2="500.35" y1="63.1" y2="63.1" stroke="#55A5F7" stroke-width="1" stroke-dasharray="2.4 1.8"/>
<circle cx="497.05" cy="45.3" r="1.8" fill="#000"/>
<rect x="506.10" y="66.1" width="6.6" height="9.20" fill="none" stroke="#55A5F7" stroke-width="1"/>
<line x1="509.40" x2="509.40" y1="64.0" y2="66.1" stroke="#55A5F7" stroke-width="1" stroke-dasharray="2 1.5"/>
<line x1="506.10" x2="512.70" y1="64.0" y2="64.0" stroke="#55A5F7" stroke-width="1" stroke-dasharray="2.4 1.8"/>
<line x1="506.10" x2="512.70" y1="75.3" y2="75.3" stroke="#55A5F7" stroke-width="1" stroke-dasharray="2.4 1.8"/>
<circle cx="509.40" cy="70.6" r="1.8" fill="#000"/>
<rect x="518.45" y="53.3" width="6.6" height="4.60" fill="none" stroke="#55A5F7" stroke-width="1"/>
<line x1="521.75" x2="521.75" y1="48.0" y2="53.3" stroke="#55A5F7" stroke-width="1" stroke-dasharray="2 1.5"/>
<line x1="521.75" x2="521.75" y1="57.9" y2="64.0" stroke="#55A5F7" stroke-width="1" stroke-dasharray="2 1.5"/>
<line x1="518.45" x2="525.05" y1="48.0" y2="48.0" stroke="#55A5F7" stroke-width="1" stroke-dasharray="2.4 1.8"/>
<line x1="518.45" x2="525.05" y1="64.0" y2="64.0" stroke="#55A5F7" stroke-width="1" stroke-dasharray="2.4 1.8"/>
<circle cx="521.75" cy="43.5" r="1.3" fill="none" stroke="#55A5F7" stroke-width="0.8"/>
<circle cx="521.75" cy="64.9" r="1.3" fill="none" stroke="#55A5F7" stroke-width="0.8"/>
<circle cx="521.75" cy="55.3" r="1.8" fill="#000"/>
<rect x="530.80" y="32.4" width="6.6" height="12.20" fill="none" stroke="#55A5F7" stroke-width="1"/>
<line x1="534.10" x2="534.10" y1="21.0" y2="32.4" stroke="#55A5F7" stroke-width="1" stroke-dasharray="2 1.5"/>
<line x1="534.10" x2="534.10" y1="44.6" y2="51.9" stroke="#55A5F7" stroke-width="1" stroke-dasharray="2 1.5"/>
<line x1="530.80" x2="537.40" y1="21.0" y2="21.0" stroke="#55A5F7" stroke-width="1" stroke-dasharray="2.4 1.8"/>
<line x1="530.80" x2="537.40" y1="51.9" y2="51.9" stroke="#55A5F7" stroke-width="1" stroke-dasharray="2.4 1.8"/>
<circle cx="534.10" cy="37.6" r="1.8" fill="#000"/>
<rect x="478.0" y="236.2" width="64.29999999999995" height="6.900000000000006" fill="#FDE5CB"/>
<line x1="478.0" x2="542.3" y1="236.2" y2="236.2" stroke="#6E6252" stroke-width="1"/>
<line x1="478.0" x2="542.3" y1="243.1" y2="243.1" stroke="#6E6252" stroke-width="1"/>
<text x="509.55" y="242.00" font-size="6.6" fill="#2a2a2a" text-anchor="middle" textLength="11.00" lengthAdjust="spacingAndGlyphs" >B02</text>
<rect x="478.0" y="243.1" width="64.29999999999995" height="52.70000000000002" fill="#FFFFFF" stroke="#7E7E7E" stroke-width="1"/>
<line x1="478.0" x2="478.0" y1="236.2" y2="243.1" stroke="#7E7E7E" stroke-width="1"/>
<line x1="542.3" x2="542.3" y1="236.2" y2="243.1" stroke="#7E7E7E" stroke-width="1"/>
<line x1="475.0" x2="478.0" y1="253.4" y2="253.4" stroke="#555" stroke-width="0.8"/>
<line x1="475.0" x2="478.0" y1="265.9" y2="265.9" stroke="#555" stroke-width="0.8"/>
<line x1="475.0" x2="478.0" y1="279" y2="279" stroke="#555" stroke-width="0.8"/>
<line x1="475.0" x2="478.0" y1="293" y2="293" stroke="#555" stroke-width="0.8"/>
<text x="473.80" y="252.30" font-size="6.8" fill="#333" text-anchor="middle" textLength="11.80" lengthAdjust="spacingAndGlyphs" transform="rotate(-90 473.80 252.30)" stroke="#333" stroke-width="0.28">0.06</text>
<text x="473.80" y="266.90" font-size="6.8" fill="#333" text-anchor="middle" textLength="11.80" lengthAdjust="spacingAndGlyphs" transform="rotate(-90 473.80 266.90)" stroke="#333" stroke-width="0.28">0.04</text>
<text x="473.80" y="281.90" font-size="6.8" fill="#333" text-anchor="middle" textLength="11.10" lengthAdjust="spacingAndGlyphs" transform="rotate(-90 473.80 281.90)" stroke="#333" stroke-width="0.28">0.02</text>
<text x="473.80" y="293.00" font-size="6.8" fill="#333" text-anchor="middle" textLength="3.20" lengthAdjust="spacingAndGlyphs" transform="rotate(-90 473.80 293.00)" stroke="#333" stroke-width="0.28">0</text>
<rect x="481.40" y="281.7" width="6.6" height="3.00" fill="none" stroke="#55A5F7" stroke-width="1"/>
<line x1="484.70" x2="484.70" y1="278.6" y2="281.7" stroke="#55A5F7" stroke-width="1" stroke-dasharray="2 1.5"/>
<line x1="484.70" x2="484.70" y1="284.7" y2="287.0" stroke="#55A5F7" stroke-width="1" stroke-dasharray="2 1.5"/>
<line x1="481.40" x2="488.00" y1="278.6" y2="278.6" stroke="#55A5F7" stroke-width="1" stroke-dasharray="2.4 1.8"/>
<line x1="481.40" x2="488.00" y1="287.0" y2="287.0" stroke="#55A5F7" stroke-width="1" stroke-dasharray="2.4 1.8"/>
<circle cx="484.70" cy="277.4" r="1.3" fill="none" stroke="#55A5F7" stroke-width="0.8"/>
<circle cx="484.70" cy="283.5" r="1.8" fill="#000"/>
<rect x="493.75" y="275.5" width="6.6" height="8.30" fill="none" stroke="#55A5F7" stroke-width="1"/>
<line x1="497.05" x2="497.05" y1="264.4" y2="275.5" stroke="#55A5F7" stroke-width="1" stroke-dasharray="2 1.5"/>
<line x1="497.05" x2="497.05" y1="283.8" y2="287.0" stroke="#55A5F7" stroke-width="1" stroke-dasharray="2 1.5"/>
<line x1="493.75" x2="500.35" y1="264.4" y2="264.4" stroke="#55A5F7" stroke-width="1" stroke-dasharray="2.4 1.8"/>
<line x1="493.75" x2="500.35" y1="287.0" y2="287.0" stroke="#55A5F7" stroke-width="1" stroke-dasharray="2.4 1.8"/>
<circle cx="497.05" cy="280.0" r="1.8" fill="#000"/>
<rect x="506.10" y="285.2" width="6.6" height="6.90" fill="none" stroke="#55A5F7" stroke-width="1"/>
<line x1="509.40" x2="509.40" y1="280.7" y2="285.2" stroke="#55A5F7" stroke-width="1" stroke-dasharray="2 1.5"/>
<line x1="506.10" x2="512.70" y1="280.7" y2="280.7" stroke="#55A5F7" stroke-width="1" stroke-dasharray="2.4 1.8"/>
<line x1="506.10" x2="512.70" y1="292.1" y2="292.1" stroke="#55A5F7" stroke-width="1" stroke-dasharray="2.4 1.8"/>
<circle cx="509.40" cy="289.9" r="1.8" fill="#000"/>
<rect x="518.45" y="283.8" width="6.6" height="2.30" fill="none" stroke="#55A5F7" stroke-width="1"/>
<line x1="521.75" x2="521.75" y1="281.2" y2="283.8" stroke="#55A5F7" stroke-width="1" stroke-dasharray="2 1.5"/>
<line x1="521.75" x2="521.75" y1="286.1" y2="288.7" stroke="#55A5F7" stroke-width="1" stroke-dasharray="2 1.5"/>
<line x1="518.45" x2="525.05" y1="281.2" y2="281.2" stroke="#55A5F7" stroke-width="1" stroke-dasharray="2.4 1.8"/>
<line x1="518.45" x2="525.05" y1="288.7" y2="288.7" stroke="#55A5F7" stroke-width="1" stroke-dasharray="2.4 1.8"/>
<circle cx="521.75" cy="280.3" r="1.3" fill="none" stroke="#55A5F7" stroke-width="0.8"/>
<circle cx="521.75" cy="284.7" r="1.8" fill="#000"/>
<rect x="530.80" y="250.0" width="6.6" height="8.60" fill="none" stroke="#55A5F7" stroke-width="1"/>
<line x1="534.10" x2="534.10" y1="246.5" y2="250.0" stroke="#55A5F7" stroke-width="1" stroke-dasharray="2 1.5"/>
<line x1="534.10" x2="534.10" y1="258.6" y2="267.0" stroke="#55A5F7" stroke-width="1" stroke-dasharray="2 1.5"/>
<line x1="530.80" x2="537.40" y1="246.5" y2="246.5" stroke="#55A5F7" stroke-width="1" stroke-dasharray="2.4 1.8"/>
<line x1="530.80" x2="537.40" y1="267.0" y2="267.0" stroke="#55A5F7" stroke-width="1" stroke-dasharray="2.4 1.8"/>
<circle cx="534.10" cy="254.3" r="1.8" fill="#000"/>
<rect x="324.2" y="78.6" width="64.19999999999999" height="8.100000000000009" fill="#FDE5CB"/>
<line x1="324.2" x2="388.4" y1="78.6" y2="78.6" stroke="#6E6252" stroke-width="1"/>
<line x1="324.2" x2="388.4" y1="86.7" y2="86.7" stroke="#6E6252" stroke-width="1"/>
<text x="355.70" y="85.60" font-size="6.6" fill="#2a2a2a" text-anchor="middle" textLength="11.00" lengthAdjust="spacingAndGlyphs" >B04</text>
<rect x="324.2" y="86.7" width="64.19999999999999" height="61.89999999999999" fill="#FFFFFF" stroke="#7E7E7E" stroke-width="1"/>
<line x1="324.2" x2="324.2" y1="78.6" y2="86.7" stroke="#7E7E7E" stroke-width="1"/>
<line x1="388.4" x2="388.4" y1="78.6" y2="86.7" stroke="#7E7E7E" stroke-width="1"/>
<line x1="321.2" x2="324.2" y1="90.6" y2="90.6" stroke="#555" stroke-width="0.8"/>
<line x1="321.2" x2="324.2" y1="101.5" y2="101.5" stroke="#555" stroke-width="0.8"/>
<line x1="321.2" x2="324.2" y1="112.3" y2="112.3" stroke="#555" stroke-width="0.8"/>
<line x1="321.2" x2="324.2" y1="123.2" y2="123.2" stroke="#555" stroke-width="0.8"/>
<line x1="321.2" x2="324.2" y1="134" y2="134" stroke="#555" stroke-width="0.8"/>
<line x1="321.2" x2="324.2" y1="144.9" y2="144.9" stroke="#555" stroke-width="0.8"/>
<text x="320.00" y="99.70" font-size="7.1" fill="#333" text-anchor="middle" textLength="14.00" lengthAdjust="spacingAndGlyphs" transform="rotate(-90 320.00 99.70)" stroke="#333" stroke-width="0.28">0.08</text>
<text x="320.00" y="123.40" font-size="7.1" fill="#333" text-anchor="middle" textLength="13.30" lengthAdjust="spacingAndGlyphs" transform="rotate(-90 320.00 123.40)" stroke="#333" stroke-width="0.28">0.04</text>
<text x="320.00" y="144.90" font-size="7.1" fill="#333" text-anchor="middle" textLength="4.30" lengthAdjust="spacingAndGlyphs" transform="rotate(-90 320.00 144.90)" stroke="#333" stroke-width="0.28">0</text>
<rect x="327.60" y="127.4" width="6.6" height="4.80" fill="none" stroke="#55A5F7" stroke-width="1"/>
<line x1="330.90" x2="330.90" y1="122.3" y2="127.4" stroke="#55A5F7" stroke-width="1" stroke-dasharray="2 1.5"/>
<line x1="330.90" x2="330.90" y1="132.2" y2="137.1" stroke="#55A5F7" stroke-width="1" stroke-dasharray="2 1.5"/>
<line x1="327.60" x2="334.20" y1="122.3" y2="122.3" stroke="#55A5F7" stroke-width="1" stroke-dasharray="2.4 1.8"/>
<line x1="327.60" x2="334.20" y1="137.1" y2="137.1" stroke="#55A5F7" stroke-width="1" stroke-dasharray="2.4 1.8"/>
<circle cx="330.90" cy="116.6" r="1.3" fill="none" stroke="#55A5F7" stroke-width="0.8"/>
<circle cx="330.90" cy="130.1" r="1.8" fill="#000"/>
<rect x="339.95" y="113.1" width="6.6" height="11.30" fill="none" stroke="#55A5F7" stroke-width="1"/>
<line x1="343.25" x2="343.25" y1="101.0" y2="113.1" stroke="#55A5F7" stroke-width="1" stroke-dasharray="2 1.5"/>
<line x1="343.25" x2="343.25" y1="124.4" y2="129.6" stroke="#55A5F7" stroke-width="1" stroke-dasharray="2 1.5"/>
<line x1="339.95" x2="346.55" y1="101.0" y2="101.0" stroke="#55A5F7" stroke-width="1" stroke-dasharray="2.4 1.8"/>
<line x1="339.95" x2="346.55" y1="129.6" y2="129.6" stroke="#55A5F7" stroke-width="1" stroke-dasharray="2.4 1.8"/>
<circle cx="343.25" cy="96.3" r="1.3" fill="none" stroke="#55A5F7" stroke-width="0.8"/>
<circle cx="343.25" cy="117.5" r="1.8" fill="#000"/>
<rect x="352.30" y="140.5" width="6.6" height="4.40" fill="none" stroke="#55A5F7" stroke-width="1"/>
<line x1="352.30" x2="358.90" y1="140.5" y2="140.5" stroke="#55A5F7" stroke-width="1" stroke-dasharray="2.4 1.8"/>
<line x1="352.30" x2="358.90" y1="144.9" y2="144.9" stroke="#55A5F7" stroke-width="1" stroke-dasharray="2.4 1.8"/>
<circle cx="355.60" cy="141.8" r="1.8" fill="#000"/>
<rect x="364.65" y="129.1" width="6.6" height="4.90" fill="none" stroke="#55A5F7" stroke-width="1"/>
<line x1="367.95" x2="367.95" y1="124.4" y2="129.1" stroke="#55A5F7" stroke-width="1" stroke-dasharray="2 1.5"/>
<line x1="367.95" x2="367.95" y1="134.0" y2="137.1" stroke="#55A5F7" stroke-width="1" stroke-dasharray="2 1.5"/>
<line x1="364.65" x2="371.25" y1="124.4" y2="124.4" stroke="#55A5F7" stroke-width="1" stroke-dasharray="2.4 1.8"/>
<line x1="364.65" x2="371.25" y1="137.1" y2="137.1" stroke="#55A5F7" stroke-width="1" stroke-dasharray="2.4 1.8"/>
<circle cx="367.95" cy="117.1" r="1.3" fill="none" stroke="#55A5F7" stroke-width="0.8"/>
<circle cx="367.95" cy="120.4" r="1.3" fill="none" stroke="#55A5F7" stroke-width="0.8"/>
<circle cx="367.95" cy="131.4" r="1.8" fill="#000"/>
<rect x="377.00" y="103.3" width="6.6" height="10.20" fill="none" stroke="#55A5F7" stroke-width="1"/>
<line x1="380.30" x2="380.30" y1="91.1" y2="103.3" stroke="#55A5F7" stroke-width="1" stroke-dasharray="2 1.5"/>
<line x1="380.30" x2="380.30" y1="113.5" y2="122.3" stroke="#55A5F7" stroke-width="1" stroke-dasharray="2 1.5"/>
<line x1="377.00" x2="383.60" y1="91.1" y2="91.1" stroke="#55A5F7" stroke-width="1" stroke-dasharray="2.4 1.8"/>
<line x1="377.00" x2="383.60" y1="122.3" y2="122.3" stroke="#55A5F7" stroke-width="1" stroke-dasharray="2.4 1.8"/>
<circle cx="380.30" cy="106.6" r="1.8" fill="#000"/>
<rect x="324.2" y="295.9" width="64.19999999999999" height="6.900000000000034" fill="#FDE5CB"/>
<line x1="324.2" x2="388.4" y1="295.9" y2="295.9" stroke="#6E6252" stroke-width="1"/>
<line x1="324.2" x2="388.4" y1="302.8" y2="302.8" stroke="#6E6252" stroke-width="1"/>
<text x="355.70" y="301.70" font-size="6.6" fill="#2a2a2a" text-anchor="middle" textLength="11.00" lengthAdjust="spacingAndGlyphs" >B04</text>
<rect x="324.2" y="302.8" width="64.19999999999999" height="52.69999999999999" fill="#FFFFFF" stroke="#7E7E7E" stroke-width="1"/>
<line x1="324.2" x2="324.2" y1="295.9" y2="302.8" stroke="#7E7E7E" stroke-width="1"/>
<line x1="388.4" x2="388.4" y1="295.9" y2="302.8" stroke="#7E7E7E" stroke-width="1"/>
<line x1="321.2" x2="324.2" y1="316.6" y2="316.6" stroke="#555" stroke-width="0.8"/>
<line x1="321.2" x2="324.2" y1="334.1" y2="334.1" stroke="#555" stroke-width="0.8"/>
<line x1="321.2" x2="324.2" y1="352.8" y2="352.8" stroke="#555" stroke-width="0.8"/>
<text x="320.00" y="315.90" font-size="7.3" fill="#333" text-anchor="middle" textLength="7.70" lengthAdjust="spacingAndGlyphs" transform="rotate(-90 320.00 315.90)" stroke="#333" stroke-width="0.28">0.1</text>
<text x="320.00" y="333.80" font-size="7.3" fill="#333" text-anchor="middle" textLength="14.00" lengthAdjust="spacingAndGlyphs" transform="rotate(-90 320.00 333.80)" stroke="#333" stroke-width="0.28">0.05</text>
<text x="320.00" y="353.20" font-size="7.3" fill="#333" text-anchor="middle" textLength="3.80" lengthAdjust="spacingAndGlyphs" transform="rotate(-90 320.00 353.20)" stroke="#333" stroke-width="0.28">0</text>
<rect x="327.60" y="343.8" width="6.6" height="4.30" fill="none" stroke="#55A5F7" stroke-width="1"/>
<line x1="330.90" x2="330.90" y1="342.0" y2="343.8" stroke="#55A5F7" stroke-width="1" stroke-dasharray="2 1.5"/>
<line x1="327.60" x2="334.20" y1="342.0" y2="342.0" stroke="#55A5F7" stroke-width="1" stroke-dasharray="2.4 1.8"/>
<line x1="327.60" x2="334.20" y1="348.1" y2="348.1" stroke="#55A5F7" stroke-width="1" stroke-dasharray="2.4 1.8"/>
<circle cx="330.90" cy="345.8" r="1.8" fill="#000"/>
<rect x="339.95" y="337.2" width="6.6" height="7.90" fill="none" stroke="#55A5F7" stroke-width="1"/>
<line x1="343.25" x2="343.25" y1="327.3" y2="337.2" stroke="#55A5F7" stroke-width="1" stroke-dasharray="2 1.5"/>
<line x1="343.25" x2="343.25" y1="345.1" y2="348.1" stroke="#55A5F7" stroke-width="1" stroke-dasharray="2 1.5"/>
<line x1="339.95" x2="346.55" y1="327.3" y2="327.3" stroke="#55A5F7" stroke-width="1" stroke-dasharray="2.4 1.8"/>
<line x1="339.95" x2="346.55" y1="348.1" y2="348.1" stroke="#55A5F7" stroke-width="1" stroke-dasharray="2.4 1.8"/>
<circle cx="343.25" cy="323.5" r="1.3" fill="none" stroke="#55A5F7" stroke-width="0.8"/>
<circle cx="343.25" cy="342.0" r="1.8" fill="#000"/>
<rect x="352.30" y="348.1" width="6.6" height="4.00" fill="none" stroke="#55A5F7" stroke-width="1"/>
<line x1="355.60" x2="355.60" y1="345.1" y2="348.1" stroke="#55A5F7" stroke-width="1" stroke-dasharray="2 1.5"/>
<line x1="352.30" x2="358.90" y1="345.1" y2="345.1" stroke="#55A5F7" stroke-width="1" stroke-dasharray="2.4 1.8"/>
<line x1="352.30" x2="358.90" y1="352.1" y2="352.1" stroke="#55A5F7" stroke-width="1" stroke-dasharray="2.4 1.8"/>
<circle cx="355.60" cy="349.8" r="1.8" fill="#000"/>
<rect x="364.65" y="344.6" width="6.6" height="3.50" fill="none" stroke="#55A5F7" stroke-width="1"/>
<line x1="367.95" x2="367.95" y1="343.4" y2="344.6" stroke="#55A5F7" stroke-width="1" stroke-dasharray="2 1.5"/>
<line x1="364.65" x2="371.25" y1="343.4" y2="343.4" stroke="#55A5F7" stroke-width="1" stroke-dasharray="2.4 1.8"/>
<line x1="364.65" x2="371.25" y1="348.1" y2="348.1" stroke="#55A5F7" stroke-width="1" stroke-dasharray="2.4 1.8"/>
<circle cx="367.95" cy="342.9" r="1.3" fill="none" stroke="#55A5F7" stroke-width="0.8"/>
<circle cx="367.95" cy="346.4" r="1.8" fill="#000"/>
<rect x="377.00" y="309.4" width="6.6" height="7.50" fill="none" stroke="#55A5F7" stroke-width="1"/>
<line x1="380.30" x2="380.30" y1="306.5" y2="309.4" stroke="#55A5F7" stroke-width="1" stroke-dasharray="2 1.5"/>
<line x1="380.30" x2="380.30" y1="316.9" y2="326.1" stroke="#55A5F7" stroke-width="1" stroke-dasharray="2 1.5"/>
<line x1="377.00" x2="383.60" y1="306.5" y2="306.5" stroke="#55A5F7" stroke-width="1" stroke-dasharray="2.4 1.8"/>
<line x1="377.00" x2="383.60" y1="326.1" y2="326.1" stroke="#55A5F7" stroke-width="1" stroke-dasharray="2.4 1.8"/>
<circle cx="380.30" cy="327.8" r="1.3" fill="none" stroke="#55A5F7" stroke-width="0.8"/>
<circle cx="380.30" cy="312.5" r="1.8" fill="#000"/>
<rect x="400.7" y="78.6" width="64.30000000000001" height="8.100000000000009" fill="#FDE5CB"/>
<line x1="400.7" x2="465.0" y1="78.6" y2="78.6" stroke="#6E6252" stroke-width="1"/>
<line x1="400.7" x2="465.0" y1="86.7" y2="86.7" stroke="#6E6252" stroke-width="1"/>
<text x="432.25" y="85.60" font-size="6.6" fill="#2a2a2a" text-anchor="middle" textLength="11.00" lengthAdjust="spacingAndGlyphs" >B05</text>
<rect x="400.7" y="86.7" width="64.30000000000001" height="61.89999999999999" fill="#FFFFFF" stroke="#7E7E7E" stroke-width="1"/>
<line x1="400.7" x2="400.7" y1="78.6" y2="86.7" stroke="#7E7E7E" stroke-width="1"/>
<line x1="465.0" x2="465.0" y1="78.6" y2="86.7" stroke="#7E7E7E" stroke-width="1"/>
<line x1="397.7" x2="400.7" y1="92.3" y2="92.3" stroke="#555" stroke-width="0.8"/>
<line x1="397.7" x2="400.7" y1="101.5" y2="101.5" stroke="#555" stroke-width="0.8"/>
<line x1="397.7" x2="400.7" y1="110.5" y2="110.5" stroke="#555" stroke-width="0.8"/>
<line x1="397.7" x2="400.7" y1="119.7" y2="119.7" stroke="#555" stroke-width="0.8"/>
<line x1="397.7" x2="400.7" y1="128.8" y2="128.8" stroke="#555" stroke-width="0.8"/>
<line x1="397.7" x2="400.7" y1="137.8" y2="137.8" stroke="#555" stroke-width="0.8"/>
<line x1="397.7" x2="400.7" y1="146.6" y2="146.6" stroke="#555" stroke-width="0.8"/>
<text x="396.50" y="100.50" font-size="6.1" fill="#333" text-anchor="middle" textLength="7.50" lengthAdjust="spacingAndGlyphs" transform="rotate(-90 396.50 100.50)" stroke="#333" stroke-width="0.28">0.1</text>
<text x="396.50" y="114.30" font-size="6.1" fill="#333" text-anchor="middle" textLength="10.50" lengthAdjust="spacingAndGlyphs" transform="rotate(-90 396.50 114.30)" stroke="#333" stroke-width="0.28">0.06</text>
<text x="396.50" y="134.50" font-size="6.1" fill="#333" text-anchor="middle" textLength="10.50" lengthAdjust="spacingAndGlyphs" transform="rotate(-90 396.50 134.50)" stroke="#333" stroke-width="0.28">0.02</text>
<text x="396.50" y="144.20" font-size="6.1" fill="#333" text-anchor="middle" textLength="4.00" lengthAdjust="spacingAndGlyphs" transform="rotate(-90 396.50 144.20)" stroke="#333" stroke-width="0.28">0</text>
<rect x="404.10" y="106.2" width="6.6" height="10.40" fill="none" stroke="#55A5F7" stroke-width="1"/>
<line x1="407.40" x2="407.40" y1="101.0" y2="106.2" stroke="#55A5F7" stroke-width="1" stroke-dasharray="2 1.5"/>
<line x1="407.40" x2="407.40" y1="116.6" y2="121.0" stroke="#55A5F7" stroke-width="1" stroke-dasharray="2 1.5"/>
<line x1="404.10" x2="410.70" y1="101.0" y2="101.0" stroke="#55A5F7" stroke-width="1" stroke-dasharray="2.4 1.8"/>
<line x1="404.10" x2="410.70" y1="121.0" y2="121.0" stroke="#55A5F7" stroke-width="1" stroke-dasharray="2.4 1.8"/>
<circle cx="407.40" cy="109.3" r="1.8" fill="#000"/>
<rect x="416.45" y="102.4" width="6.6" height="9.00" fill="none" stroke="#55A5F7" stroke-width="1"/>
<line x1="419.75" x2="419.75" y1="92.0" y2="102.4" stroke="#55A5F7" stroke-width="1" stroke-dasharray="2 1.5"/>
<line x1="419.75" x2="419.75" y1="111.4" y2="115.2" stroke="#55A5F7" stroke-width="1" stroke-dasharray="2 1.5"/>
<line x1="416.45" x2="423.05" y1="92.0" y2="92.0" stroke="#55A5F7" stroke-width="1" stroke-dasharray="2.4 1.8"/>
<line x1="416.45" x2="423.05" y1="115.2" y2="115.2" stroke="#55A5F7" stroke-width="1" stroke-dasharray="2.4 1.8"/>
<circle cx="419.75" cy="107.1" r="1.8" fill="#000"/>
<rect x="428.80" y="137.4" width="6.6" height="4.40" fill="none" stroke="#55A5F7" stroke-width="1"/>
<line x1="432.10" x2="432.10" y1="136.0" y2="137.4" stroke="#55A5F7" stroke-width="1" stroke-dasharray="2 1.5"/>
<line x1="432.10" x2="432.10" y1="141.8" y2="145.2" stroke="#55A5F7" stroke-width="1" stroke-dasharray="2 1.5"/>
<line x1="428.80" x2="435.40" y1="136.0" y2="136.0" stroke="#55A5F7" stroke-width="1" stroke-dasharray="2.4 1.8"/>
<line x1="428.80" x2="435.40" y1="145.2" y2="145.2" stroke="#55A5F7" stroke-width="1" stroke-dasharray="2.4 1.8"/>
<circle cx="432.10" cy="140.0" r="1.8" fill="#000"/>
<rect x="441.15" y="115.4" width="6.6" height="5.00" fill="none" stroke="#55A5F7" stroke-width="1"/>
<line x1="444.45" x2="444.45" y1="107.1" y2="115.4" stroke="#55A5F7" stroke-width="1" stroke-dasharray="2 1.5"/>
<line x1="444.45" x2="444.45" y1="120.4" y2="125.3" stroke="#55A5F7" stroke-width="1" stroke-dasharray="2 1.5"/>
<line x1="441.15" x2="447.75" y1="107.1" y2="107.1" stroke="#55A5F7" stroke-width="1" stroke-dasharray="2.4 1.8"/>
<line x1="441.15" x2="447.75" y1="125.3" y2="125.3" stroke="#55A5F7" stroke-width="1" stroke-dasharray="2.4 1.8"/>
<circle cx="444.45" cy="104.1" r="1.3" fill="none" stroke="#55A5F7" stroke-width="0.8"/>
<circle cx="444.45" cy="118.4" r="1.8" fill="#000"/>
<rect x="453.50" y="91.0" width="6.6" height="5.30" fill="none" stroke="#55A5F7" stroke-width="1"/>
<line x1="456.80" x2="456.80" y1="96.3" y2="102.7" stroke="#55A5F7" stroke-width="1" stroke-dasharray="2 1.5"/>
<line x1="453.50" x2="460.10" y1="91.0" y2="91.0" stroke="#55A5F7" stroke-width="1" stroke-dasharray="2.4 1.8"/>
<line x1="453.50" x2="460.10" y1="102.7" y2="102.7" stroke="#55A5F7" stroke-width="1" stroke-dasharray="2.4 1.8"/>
<circle cx="456.80" cy="112.3" r="1.3" fill="none" stroke="#55A5F7" stroke-width="0.8"/>
<circle cx="456.80" cy="93.2" r="1.8" fill="#000"/>
<rect x="400.7" y="295.9" width="64.30000000000001" height="6.900000000000034" fill="#FDE5CB"/>
<line x1="400.7" x2="465.0" y1="295.9" y2="295.9" stroke="#6E6252" stroke-width="1"/>
<line x1="400.7" x2="465.0" y1="302.8" y2="302.8" stroke="#6E6252" stroke-width="1"/>
<text x="432.25" y="301.70" font-size="6.6" fill="#2a2a2a" text-anchor="middle" textLength="11.00" lengthAdjust="spacingAndGlyphs" >B05</text>
<rect x="400.7" y="302.8" width="64.30000000000001" height="52.69999999999999" fill="#FFFFFF" stroke="#7E7E7E" stroke-width="1"/>
<line x1="400.7" x2="400.7" y1="295.9" y2="302.8" stroke="#7E7E7E" stroke-width="1"/>
<line x1="465.0" x2="465.0" y1="295.9" y2="302.8" stroke="#7E7E7E" stroke-width="1"/>
<line x1="397.7" x2="400.7" y1="308.7" y2="308.7" stroke="#555" stroke-width="0.8"/>
<line x1="397.7" x2="400.7" y1="324.2" y2="324.2" stroke="#555" stroke-width="0.8"/>
<line x1="397.7" x2="400.7" y1="339.4" y2="339.4" stroke="#555" stroke-width="0.8"/>
<line x1="397.7" x2="400.7" y1="354.2" y2="354.2" stroke="#555" stroke-width="0.8"/>
<text x="396.50" y="306.30" font-size="7.3" fill="#333" text-anchor="middle" textLength="11.30" lengthAdjust="spacingAndGlyphs" transform="rotate(-90 396.50 306.30)" stroke="#333" stroke-width="0.28">0.15</text>
<text x="396.50" y="324.60" font-size="7.3" fill="#333" text-anchor="middle" textLength="8.50" lengthAdjust="spacingAndGlyphs" transform="rotate(-90 396.50 324.60)" stroke="#333" stroke-width="0.28">0.1</text>
<text x="396.50" y="343.80" font-size="7.3" fill="#333" text-anchor="middle" textLength="13.80" lengthAdjust="spacingAndGlyphs" transform="rotate(-90 396.50 343.80)" stroke="#333" stroke-width="0.28">0.05</text>
<rect x="404.10" y="335.1" width="6.6" height="4.30" fill="none" stroke="#55A5F7" stroke-width="1"/>
<line x1="407.40" x2="407.40" y1="329.9" y2="335.1" stroke="#55A5F7" stroke-width="1" stroke-dasharray="2 1.5"/>
<line x1="407.40" x2="407.40" y1="339.4" y2="342.0" stroke="#55A5F7" stroke-width="1" stroke-dasharray="2 1.5"/>
<line x1="404.10" x2="410.70" y1="329.9" y2="329.9" stroke="#55A5F7" stroke-width="1" stroke-dasharray="2.4 1.8"/>
<line x1="404.10" x2="410.70" y1="342.0" y2="342.0" stroke="#55A5F7" stroke-width="1" stroke-dasharray="2.4 1.8"/>
<circle cx="407.40" cy="337.2" r="1.8" fill="#000"/>
<rect x="416.45" y="332.5" width="6.6" height="5.70" fill="none" stroke="#55A5F7" stroke-width="1"/>
<line x1="419.75" x2="419.75" y1="325.5" y2="332.5" stroke="#55A5F7" stroke-width="1" stroke-dasharray="2 1.5"/>
<line x1="419.75" x2="419.75" y1="338.2" y2="342.4" stroke="#55A5F7" stroke-width="1" stroke-dasharray="2 1.5"/>
<line x1="416.45" x2="423.05" y1="325.5" y2="325.5" stroke="#55A5F7" stroke-width="1" stroke-dasharray="2.4 1.8"/>
<line x1="416.45" x2="423.05" y1="342.4" y2="342.4" stroke="#55A5F7" stroke-width="1" stroke-dasharray="2.4 1.8"/>
<circle cx="419.75" cy="321.6" r="1.3" fill="none" stroke="#55A5F7" stroke-width="0.8"/>
<circle cx="419.75" cy="335.4" r="1.8" fill="#000"/>
<rect x="428.80" y="344.6" width="6.6" height="4.00" fill="none" stroke="#55A5F7" stroke-width="1"/>
<line x1="432.10" x2="432.10" y1="339.9" y2="344.6" stroke="#55A5F7" stroke-width="1" stroke-dasharray="2 1.5"/>
<line x1="432.10" x2="432.10" y1="348.6" y2="351.6" stroke="#55A5F7" stroke-width="1" stroke-dasharray="2 1.5"/>
<line x1="428.80" x2="435.40" y1="339.9" y2="339.9" stroke="#55A5F7" stroke-width="1" stroke-dasharray="2.4 1.8"/>
<line x1="428.80" x2="435.40" y1="351.6" y2="351.6" stroke="#55A5F7" stroke-width="1" stroke-dasharray="2.4 1.8"/>
<circle cx="432.10" cy="330.7" r="1.3" fill="none" stroke="#55A5F7" stroke-width="0.8"/>
<circle cx="432.10" cy="346.4" r="1.8" fill="#000"/>
<rect x="441.15" y="339.4" width="6.6" height="2.60" fill="none" stroke="#55A5F7" stroke-width="1"/>
<line x1="444.45" x2="444.45" y1="336.5" y2="339.4" stroke="#55A5F7" stroke-width="1" stroke-dasharray="2 1.5"/>
<line x1="444.45" x2="444.45" y1="342.0" y2="343.8" stroke="#55A5F7" stroke-width="1" stroke-dasharray="2 1.5"/>
<line x1="441.15" x2="447.75" y1="336.5" y2="336.5" stroke="#55A5F7" stroke-width="1" stroke-dasharray="2.4 1.8"/>
<line x1="441.15" x2="447.75" y1="343.8" y2="343.8" stroke="#55A5F7" stroke-width="1" stroke-dasharray="2.4 1.8"/>
<circle cx="444.45" cy="334.7" r="1.3" fill="none" stroke="#55A5F7" stroke-width="0.8"/>
<circle cx="444.45" cy="340.6" r="1.8" fill="#000"/>
<rect x="453.50" y="307.6" width="6.6" height="5.30" fill="none" stroke="#55A5F7" stroke-width="1"/>
<line x1="456.80" x2="456.80" y1="306.0" y2="307.6" stroke="#55A5F7" stroke-width="1" stroke-dasharray="2 1.5"/>
<line x1="456.80" x2="456.80" y1="312.9" y2="317.8" stroke="#55A5F7" stroke-width="1" stroke-dasharray="2 1.5"/>
<line x1="453.50" x2="460.10" y1="306.0" y2="306.0" stroke="#55A5F7" stroke-width="1" stroke-dasharray="2.4 1.8"/>
<line x1="453.50" x2="460.10" y1="317.8" y2="317.8" stroke="#55A5F7" stroke-width="1" stroke-dasharray="2.4 1.8"/>
<circle cx="456.80" cy="321.3" r="1.6" fill="#55A5F7" stroke="#55A5F7" stroke-width="0.6"/>
<circle cx="456.80" cy="323.9" r="1.6" fill="#55A5F7" stroke="#55A5F7" stroke-width="0.6"/>
<circle cx="456.80" cy="326.5" r="1.6" fill="#55A5F7" stroke="#55A5F7" stroke-width="0.6"/>
<circle cx="456.80" cy="310.6" r="1.8" fill="#000"/>
<rect x="478.0" y="78.6" width="64.29999999999995" height="8.100000000000009" fill="#FDE5CB"/>
<line x1="478.0" x2="542.3" y1="78.6" y2="78.6" stroke="#6E6252" stroke-width="1"/>
<line x1="478.0" x2="542.3" y1="86.7" y2="86.7" stroke="#6E6252" stroke-width="1"/>
<text x="509.55" y="85.60" font-size="6.6" fill="#2a2a2a" text-anchor="middle" textLength="11.00" lengthAdjust="spacingAndGlyphs" >B06</text>
<rect x="478.0" y="86.7" width="64.29999999999995" height="61.89999999999999" fill="#FFFFFF" stroke="#7E7E7E" stroke-width="1"/>
<line x1="478.0" x2="478.0" y1="78.6" y2="86.7" stroke="#7E7E7E" stroke-width="1"/>
<line x1="542.3" x2="542.3" y1="78.6" y2="86.7" stroke="#7E7E7E" stroke-width="1"/>
<line x1="475.0" x2="478.0" y1="99" y2="99" stroke="#555" stroke-width="0.8"/>
<line x1="475.0" x2="478.0" y1="114.6" y2="114.6" stroke="#555" stroke-width="0.8"/>
<line x1="475.0" x2="478.0" y1="130.8" y2="130.8" stroke="#555" stroke-width="0.8"/>
<line x1="475.0" x2="478.0" y1="147" y2="147" stroke="#555" stroke-width="0.8"/>
<text x="473.80" y="99.80" font-size="7.0" fill="#333" text-anchor="middle" textLength="8.40" lengthAdjust="spacingAndGlyphs" transform="rotate(-90 473.80 99.80)" stroke="#333" stroke-width="0.28">0.3</text>
<text x="473.80" y="115.60" font-size="7.0" fill="#333" text-anchor="middle" textLength="7.70" lengthAdjust="spacingAndGlyphs" transform="rotate(-90 473.80 115.60)" stroke="#333" stroke-width="0.28">0.2</text>
<text x="473.80" y="132.50" font-size="7.0" fill="#333" text-anchor="middle" textLength="7.70" lengthAdjust="spacingAndGlyphs" transform="rotate(-90 473.80 132.50)" stroke="#333" stroke-width="0.28">0.1</text>
<text x="473.80" y="145.80" font-size="7.0" fill="#333" text-anchor="middle" textLength="3.90" lengthAdjust="spacingAndGlyphs" transform="rotate(-90 473.80 145.80)" stroke="#333" stroke-width="0.28">0</text>
<rect x="481.40" y="99.6" width="6.6" height="12.70" fill="none" stroke="#55A5F7" stroke-width="1"/>
<line x1="484.70" x2="484.70" y1="91.0" y2="99.6" stroke="#55A5F7" stroke-width="1" stroke-dasharray="2 1.5"/>
<line x1="484.70" x2="484.70" y1="112.3" y2="119.8" stroke="#55A5F7" stroke-width="1" stroke-dasharray="2 1.5"/>
<line x1="481.40" x2="488.00" y1="91.0" y2="91.0" stroke="#55A5F7" stroke-width="1" stroke-dasharray="2.4 1.8"/>
<line x1="481.40" x2="488.00" y1="119.8" y2="119.8" stroke="#55A5F7" stroke-width="1" stroke-dasharray="2.4 1.8"/>
<circle cx="484.70" cy="106.2" r="1.8" fill="#000"/>
<rect x="493.75" y="115.4" width="6.6" height="3.90" fill="none" stroke="#55A5F7" stroke-width="1"/>
<line x1="497.05" x2="497.05" y1="112.3" y2="115.4" stroke="#55A5F7" stroke-width="1" stroke-dasharray="2 1.5"/>
<line x1="497.05" x2="497.05" y1="119.3" y2="123.3" stroke="#55A5F7" stroke-width="1" stroke-dasharray="2 1.5"/>
<line x1="493.75" x2="500.35" y1="112.3" y2="112.3" stroke="#55A5F7" stroke-width="1" stroke-dasharray="2.4 1.8"/>
<line x1="493.75" x2="500.35" y1="123.3" y2="123.3" stroke="#55A5F7" stroke-width="1" stroke-dasharray="2.4 1.8"/>
<circle cx="497.05" cy="106.2" r="1.3" fill="none" stroke="#55A5F7" stroke-width="0.8"/>
<circle cx="497.05" cy="108.3" r="1.3" fill="none" stroke="#55A5F7" stroke-width="0.8"/>
<circle cx="497.05" cy="116.7" r="1.8" fill="#000"/>
<rect x="506.10" y="136.6" width="6.6" height="4.40" fill="none" stroke="#55A5F7" stroke-width="1"/>
<line x1="509.40" x2="509.40" y1="141.0" y2="144.8" stroke="#55A5F7" stroke-width="1" stroke-dasharray="2 1.5"/>
<line x1="506.10" x2="512.70" y1="136.6" y2="136.6" stroke="#55A5F7" stroke-width="1" stroke-dasharray="2.4 1.8"/>
<line x1="506.10" x2="512.70" y1="144.8" y2="144.8" stroke="#55A5F7" stroke-width="1" stroke-dasharray="2.4 1.8"/>
<circle cx="509.40" cy="138.4" r="1.8" fill="#000"/>
<rect x="518.45" y="115.8" width="6.6" height="4.70" fill="none" stroke="#55A5F7" stroke-width="1"/>
<line x1="521.75" x2="521.75" y1="110.9" y2="115.8" stroke="#55A5F7" stroke-width="1" stroke-dasharray="2 1.5"/>
<line x1="521.75" x2="521.75" y1="120.5" y2="123.6" stroke="#55A5F7" stroke-width="1" stroke-dasharray="2 1.5"/>
<line x1="518.45" x2="525.05" y1="110.9" y2="110.9" stroke="#55A5F7" stroke-width="1" stroke-dasharray="2.4 1.8"/>
<line x1="518.45" x2="525.05" y1="123.6" y2="123.6" stroke="#55A5F7" stroke-width="1" stroke-dasharray="2.4 1.8"/>
<circle cx="521.75" cy="117.5" r="1.8" fill="#000"/>
<rect x="530.80" y="110.6" width="6.6" height="9.20" fill="none" stroke="#55A5F7" stroke-width="1"/>
<line x1="534.10" x2="534.10" y1="107.5" y2="110.6" stroke="#55A5F7" stroke-width="1" stroke-dasharray="2 1.5"/>
<line x1="534.10" x2="534.10" y1="119.8" y2="122.2" stroke="#55A5F7" stroke-width="1" stroke-dasharray="2 1.5"/>
<line x1="530.80" x2="537.40" y1="107.5" y2="107.5" stroke="#55A5F7" stroke-width="1" stroke-dasharray="2.4 1.8"/>
<line x1="530.80" x2="537.40" y1="122.2" y2="122.2" stroke="#55A5F7" stroke-width="1" stroke-dasharray="2.4 1.8"/>
<circle cx="534.10" cy="117.5" r="1.8" fill="#000"/>
<rect x="478.0" y="295.9" width="64.29999999999995" height="6.900000000000034" fill="#FDE5CB"/>
<line x1="478.0" x2="542.3" y1="295.9" y2="295.9" stroke="#6E6252" stroke-width="1"/>
<line x1="478.0" x2="542.3" y1="302.8" y2="302.8" stroke="#6E6252" stroke-width="1"/>
<text x="509.55" y="301.70" font-size="6.6" fill="#2a2a2a" text-anchor="middle" textLength="11.00" lengthAdjust="spacingAndGlyphs" >B06</text>
<rect x="478.0" y="302.8" width="64.29999999999995" height="52.69999999999999" fill="#FFFFFF" stroke="#7E7E7E" stroke-width="1"/>
<line x1="478.0" x2="478.0" y1="295.9" y2="302.8" stroke="#7E7E7E" stroke-width="1"/>
<line x1="542.3" x2="542.3" y1="295.9" y2="302.8" stroke="#7E7E7E" stroke-width="1"/>
<line x1="475.0" x2="478.0" y1="312" y2="312" stroke="#555" stroke-width="0.8"/>
<line x1="475.0" x2="478.0" y1="322" y2="322" stroke="#555" stroke-width="0.8"/>
<line x1="475.0" x2="478.0" y1="332" y2="332" stroke="#555" stroke-width="0.8"/>
<line x1="475.0" x2="478.0" y1="342" y2="342" stroke="#555" stroke-width="0.8"/>
<line x1="475.0" x2="478.0" y1="352" y2="352" stroke="#555" stroke-width="0.8"/>
<text x="473.80" y="312.00" font-size="6.8" fill="#333" text-anchor="middle" textLength="10.00" lengthAdjust="spacingAndGlyphs" transform="rotate(-90 473.80 312.00)" stroke="#333" stroke-width="0.28">0.25</text>
<text x="473.80" y="330.30" font-size="6.8" fill="#333" text-anchor="middle" textLength="11.30" lengthAdjust="spacingAndGlyphs" transform="rotate(-90 473.80 330.30)" stroke="#333" stroke-width="0.28">0.15</text>
<text x="473.80" y="348.60" font-size="6.8" fill="#333" text-anchor="middle" textLength="11.20" lengthAdjust="spacingAndGlyphs" transform="rotate(-90 473.80 348.60)" stroke="#333" stroke-width="0.28">0.05</text>
<rect x="481.40" y="319.2" width="6.6" height="9.30" fill="none" stroke="#55A5F7" stroke-width="1"/>
<line x1="484.70" x2="484.70" y1="306.5" y2="319.2" stroke="#55A5F7" stroke-width="1" stroke-dasharray="2 1.5"/>
<line x1="484.70" x2="484.70" y1="328.5" y2="336.0" stroke="#55A5F7" stroke-width="1" stroke-dasharray="2 1.5"/>
<line x1="481.40" x2="488.00" y1="306.5" y2="306.5" stroke="#55A5F7" stroke-width="1" stroke-dasharray="2.4 1.8"/>
<line x1="481.40" x2="488.00" y1="336.0" y2="336.0" stroke="#55A5F7" stroke-width="1" stroke-dasharray="2.4 1.8"/>
<circle cx="484.70" cy="325.6" r="1.8" fill="#000"/>
<rect x="493.75" y="327.3" width="6.6" height="7.00" fill="none" stroke="#55A5F7" stroke-width="1"/>
<line x1="497.05" x2="497.05" y1="321.6" y2="327.3" stroke="#55A5F7" stroke-width="1" stroke-dasharray="2 1.5"/>
<line x1="497.05" x2="497.05" y1="334.3" y2="338.3" stroke="#55A5F7" stroke-width="1" stroke-dasharray="2 1.5"/>
<line x1="493.75" x2="500.35" y1="321.6" y2="321.6" stroke="#55A5F7" stroke-width="1" stroke-dasharray="2.4 1.8"/>
<line x1="493.75" x2="500.35" y1="338.3" y2="338.3" stroke="#55A5F7" stroke-width="1" stroke-dasharray="2.4 1.8"/>
<circle cx="497.05" cy="314.3" r="1.3" fill="none" stroke="#55A5F7" stroke-width="0.8"/>
<circle cx="497.05" cy="329.6" r="1.8" fill="#000"/>
<rect x="506.10" y="340.0" width="6.6" height="7.30" fill="none" stroke="#55A5F7" stroke-width="1"/>
<line x1="509.40" x2="509.40" y1="330.0" y2="340.0" stroke="#55A5F7" stroke-width="1" stroke-dasharray="2 1.5"/>
<line x1="509.40" x2="509.40" y1="347.3" y2="352.1" stroke="#55A5F7" stroke-width="1" stroke-dasharray="2 1.5"/>
<line x1="506.10" x2="512.70" y1="330.0" y2="330.0" stroke="#55A5F7" stroke-width="1" stroke-dasharray="2.4 1.8"/>
<line x1="506.10" x2="512.70" y1="352.1" y2="352.1" stroke="#55A5F7" stroke-width="1" stroke-dasharray="2.4 1.8"/>
<circle cx="509.40" cy="323.0" r="1.3" fill="none" stroke="#55A5F7" stroke-width="0.8"/>
<circle cx="509.40" cy="343.5" r="1.8" fill="#000"/>
<rect x="518.45" y="331.3" width="6.6" height="4.20" fill="none" stroke="#55A5F7" stroke-width="1"/>
<line x1="521.75" x2="521.75" y1="326.1" y2="331.3" stroke="#55A5F7" stroke-width="1" stroke-dasharray="2 1.5"/>
<line x1="521.75" x2="521.75" y1="335.5" y2="340.0" stroke="#55A5F7" stroke-width="1" stroke-dasharray="2 1.5"/>
<line x1="518.45" x2="525.05" y1="326.1" y2="326.1" stroke="#55A5F7" stroke-width="1" stroke-dasharray="2.4 1.8"/>
<line x1="518.45" x2="525.05" y1="340.0" y2="340.0" stroke="#55A5F7" stroke-width="1" stroke-dasharray="2.4 1.8"/>
<circle cx="521.75" cy="320.4" r="1.3" fill="none" stroke="#55A5F7" stroke-width="0.8"/>
<circle cx="521.75" cy="323.0" r="1.6" fill="#55A5F7" stroke="#55A5F7" stroke-width="0.6"/>
<circle cx="521.75" cy="324.4" r="1.6" fill="#55A5F7" stroke="#55A5F7" stroke-width="0.6"/>
<circle cx="521.75" cy="333.0" r="1.8" fill="#000"/>
<rect x="530.80" y="320.9" width="6.6" height="6.40" fill="none" stroke="#55A5F7" stroke-width="1"/>
<line x1="534.10" x2="534.10" y1="311.7" y2="320.9" stroke="#55A5F7" stroke-width="1" stroke-dasharray="2 1.5"/>
<line x1="534.10" x2="534.10" y1="327.3" y2="331.7" stroke="#55A5F7" stroke-width="1" stroke-dasharray="2 1.5"/>
<line x1="530.80" x2="537.40" y1="311.7" y2="311.7" stroke="#55A5F7" stroke-width="1" stroke-dasharray="2.4 1.8"/>
<line x1="530.80" x2="537.40" y1="331.7" y2="331.7" stroke="#55A5F7" stroke-width="1" stroke-dasharray="2.4 1.8"/>
<circle cx="534.10" cy="323.8" r="1.8" fill="#000"/>
<rect x="324.2" y="149.0" width="64.19999999999999" height="8.199999999999989" fill="#FDE5CB"/>
<line x1="324.2" x2="388.4" y1="149.0" y2="149.0" stroke="#6E6252" stroke-width="1"/>
<line x1="324.2" x2="388.4" y1="157.2" y2="157.2" stroke="#6E6252" stroke-width="1"/>
<text x="355.70" y="156.10" font-size="6.6" fill="#2a2a2a" text-anchor="middle" textLength="11.00" lengthAdjust="spacingAndGlyphs" >B11</text>
<rect x="324.2" y="157.2" width="64.19999999999999" height="61.10000000000002" fill="#FFFFFF" stroke="#7E7E7E" stroke-width="1"/>
<line x1="324.2" x2="324.2" y1="149.0" y2="157.2" stroke="#7E7E7E" stroke-width="1"/>
<line x1="388.4" x2="388.4" y1="149.0" y2="157.2" stroke="#7E7E7E" stroke-width="1"/>
<line x1="321.2" x2="324.2" y1="160.9" y2="160.9" stroke="#555" stroke-width="0.8"/>
<line x1="321.2" x2="324.2" y1="173" y2="173" stroke="#555" stroke-width="0.8"/>
<line x1="321.2" x2="324.2" y1="184.9" y2="184.9" stroke="#555" stroke-width="0.8"/>
<line x1="321.2" x2="324.2" y1="196.5" y2="196.5" stroke="#555" stroke-width="0.8"/>
<line x1="321.2" x2="324.2" y1="208.5" y2="208.5" stroke="#555" stroke-width="0.8"/>
<text x="320.00" y="161.50" font-size="7.5" fill="#333" text-anchor="middle" textLength="13.00" lengthAdjust="spacingAndGlyphs" transform="rotate(-90 320.00 161.50)" stroke="#333" stroke-width="0.28">0.25</text>
<text x="320.00" y="183.50" font-size="7.5" fill="#333" text-anchor="middle" textLength="12.00" lengthAdjust="spacingAndGlyphs" transform="rotate(-90 320.00 183.50)" stroke="#333" stroke-width="0.28">0.15</text>
<text x="320.00" y="206.30" font-size="7.5" fill="#333" text-anchor="middle" textLength="12.70" lengthAdjust="spacingAndGlyphs" transform="rotate(-90 320.00 206.30)" stroke="#333" stroke-width="0.28">0.05</text>
<rect x="327.60" y="178.0" width="6.6" height="18.20" fill="none" stroke="#55A5F7" stroke-width="1"/>
<line x1="330.90" x2="330.90" y1="171.5" y2="178.0" stroke="#55A5F7" stroke-width="1" stroke-dasharray="2 1.5"/>
<line x1="330.90" x2="330.90" y1="196.2" y2="199.3" stroke="#55A5F7" stroke-width="1" stroke-dasharray="2 1.5"/>
<line x1="327.60" x2="334.20" y1="171.5" y2="171.5" stroke="#55A5F7" stroke-width="1" stroke-dasharray="2.4 1.8"/>
<line x1="327.60" x2="334.20" y1="199.3" y2="199.3" stroke="#55A5F7" stroke-width="1" stroke-dasharray="2.4 1.8"/>
<circle cx="330.90" cy="186.1" r="1.8" fill="#000"/>
<rect x="339.95" y="173.1" width="6.6" height="8.00" fill="none" stroke="#55A5F7" stroke-width="1"/>
<line x1="343.25" x2="343.25" y1="167.5" y2="173.1" stroke="#55A5F7" stroke-width="1" stroke-dasharray="2 1.5"/>
<line x1="343.25" x2="343.25" y1="181.1" y2="186.6" stroke="#55A5F7" stroke-width="1" stroke-dasharray="2 1.5"/>
<line x1="339.95" x2="346.55" y1="167.5" y2="167.5" stroke="#55A5F7" stroke-width="1" stroke-dasharray="2.4 1.8"/>
<line x1="339.95" x2="346.55" y1="186.6" y2="186.6" stroke="#55A5F7" stroke-width="1" stroke-dasharray="2.4 1.8"/>
<circle cx="343.25" cy="178.3" r="1.8" fill="#000"/>
<rect x="352.30" y="210.5" width="6.6" height="4.40" fill="none" stroke="#55A5F7" stroke-width="1"/>
<line x1="355.60" x2="355.60" y1="208.8" y2="210.5" stroke="#55A5F7" stroke-width="1" stroke-dasharray="2 1.5"/>
<line x1="352.30" x2="358.90" y1="208.8" y2="208.8" stroke="#55A5F7" stroke-width="1" stroke-dasharray="2.4 1.8"/>
<line x1="352.30" x2="358.90" y1="214.9" y2="214.9" stroke="#55A5F7" stroke-width="1" stroke-dasharray="2.4 1.8"/>
<circle cx="355.60" cy="212.6" r="1.8" fill="#000"/>
<rect x="364.65" y="188.4" width="6.6" height="6.90" fill="none" stroke="#55A5F7" stroke-width="1"/>
<line x1="367.95" x2="367.95" y1="179.7" y2="188.4" stroke="#55A5F7" stroke-width="1" stroke-dasharray="2 1.5"/>
<line x1="367.95" x2="367.95" y1="195.3" y2="200.8" stroke="#55A5F7" stroke-width="1" stroke-dasharray="2 1.5"/>
<line x1="364.65" x2="371.25" y1="179.7" y2="179.7" stroke="#55A5F7" stroke-width="1" stroke-dasharray="2.4 1.8"/>
<line x1="364.65" x2="371.25" y1="200.8" y2="200.8" stroke="#55A5F7" stroke-width="1" stroke-dasharray="2.4 1.8"/>
<circle cx="367.95" cy="191.8" r="1.8" fill="#000"/>
<rect x="377.00" y="162.3" width="6.6" height="8.70" fill="none" stroke="#55A5F7" stroke-width="1"/>
<line x1="380.30" x2="380.30" y1="160.6" y2="162.3" stroke="#55A5F7" stroke-width="1" stroke-dasharray="2 1.5"/>
<line x1="380.30" x2="380.30" y1="171.0" y2="182.3" stroke="#55A5F7" stroke-width="1" stroke-dasharray="2 1.5"/>
<line x1="377.00" x2="383.60" y1="160.6" y2="160.6" stroke="#55A5F7" stroke-width="1" stroke-dasharray="2.4 1.8"/>
<line x1="377.00" x2="383.60" y1="182.3" y2="182.3" stroke="#55A5F7" stroke-width="1" stroke-dasharray="2.4 1.8"/>
<circle cx="380.30" cy="185.7" r="1.3" fill="none" stroke="#55A5F7" stroke-width="0.8"/>
<circle cx="380.30" cy="167.5" r="1.8" fill="#000"/>
<rect x="324.2" y="355.6" width="64.19999999999999" height="6.899999999999977" fill="#FDE5CB"/>
<line x1="324.2" x2="388.4" y1="355.6" y2="355.6" stroke="#6E6252" stroke-width="1"/>
<line x1="324.2" x2="388.4" y1="362.5" y2="362.5" stroke="#6E6252" stroke-width="1"/>
<text x="355.70" y="361.40" font-size="6.6" fill="#2a2a2a" text-anchor="middle" textLength="11.00" lengthAdjust="spacingAndGlyphs" >B11</text>
<rect x="324.2" y="362.5" width="64.19999999999999" height="52.69999999999999" fill="#FFFFFF" stroke="#7E7E7E" stroke-width="1"/>
<line x1="324.2" x2="324.2" y1="355.6" y2="362.5" stroke="#7E7E7E" stroke-width="1"/>
<line x1="388.4" x2="388.4" y1="355.6" y2="362.5" stroke="#7E7E7E" stroke-width="1"/>
<line x1="321.2" x2="324.2" y1="373" y2="373" stroke="#555" stroke-width="0.8"/>
<line x1="321.2" x2="324.2" y1="388" y2="388" stroke="#555" stroke-width="0.8"/>
<line x1="321.2" x2="324.2" y1="402.2" y2="402.2" stroke="#555" stroke-width="0.8"/>
<text x="320.00" y="371.00" font-size="7.1" fill="#333" text-anchor="middle" textLength="9.10" lengthAdjust="spacingAndGlyphs" transform="rotate(-90 320.00 371.00)" stroke="#333" stroke-width="0.28">0.3</text>
<text x="320.00" y="386.60" font-size="7.1" fill="#333" text-anchor="middle" textLength="9.20" lengthAdjust="spacingAndGlyphs" transform="rotate(-90 320.00 386.60)" stroke="#333" stroke-width="0.28">0.2</text>
<text x="320.00" y="402.30" font-size="7.1" fill="#333" text-anchor="middle" textLength="9.10" lengthAdjust="spacingAndGlyphs" transform="rotate(-90 320.00 402.30)" stroke="#333" stroke-width="0.28">0.1</text>
<rect x="327.60" y="397.7" width="6.6" height="9.20" fill="none" stroke="#55A5F7" stroke-width="1"/>
<line x1="330.90" x2="330.90" y1="393.7" y2="397.7" stroke="#55A5F7" stroke-width="1" stroke-dasharray="2 1.5"/>
<line x1="327.60" x2="334.20" y1="393.7" y2="393.7" stroke="#55A5F7" stroke-width="1" stroke-dasharray="2.4 1.8"/>
<line x1="327.60" x2="334.20" y1="406.9" y2="406.9" stroke="#55A5F7" stroke-width="1" stroke-dasharray="2.4 1.8"/>
<circle cx="330.90" cy="402.5" r="1.8" fill="#000"/>
<rect x="339.95" y="394.7" width="6.6" height="6.50" fill="none" stroke="#55A5F7" stroke-width="1"/>
<line x1="343.25" x2="343.25" y1="386.1" y2="394.7" stroke="#55A5F7" stroke-width="1" stroke-dasharray="2 1.5"/>
<line x1="343.25" x2="343.25" y1="401.2" y2="405.8" stroke="#55A5F7" stroke-width="1" stroke-dasharray="2 1.5"/>
<line x1="339.95" x2="346.55" y1="386.1" y2="386.1" stroke="#55A5F7" stroke-width="1" stroke-dasharray="2.4 1.8"/>
<line x1="339.95" x2="346.55" y1="405.8" y2="405.8" stroke="#55A5F7" stroke-width="1" stroke-dasharray="2.4 1.8"/>
<circle cx="343.25" cy="382.6" r="1.3" fill="none" stroke="#55A5F7" stroke-width="0.8"/>
<circle cx="343.25" cy="398.0" r="1.8" fill="#000"/>
<rect x="352.30" y="406.4" width="6.6" height="5.20" fill="none" stroke="#55A5F7" stroke-width="1"/>
<line x1="355.60" x2="355.60" y1="402.0" y2="406.4" stroke="#55A5F7" stroke-width="1" stroke-dasharray="2 1.5"/>
<line x1="352.30" x2="358.90" y1="402.0" y2="402.0" stroke="#55A5F7" stroke-width="1" stroke-dasharray="2.4 1.8"/>
<line x1="352.30" x2="358.90" y1="411.6" y2="411.6" stroke="#55A5F7" stroke-width="1" stroke-dasharray="2.4 1.8"/>
<circle cx="355.60" cy="398.9" r="1.3" fill="none" stroke="#55A5F7" stroke-width="0.8"/>
<circle cx="355.60" cy="408.6" r="1.8" fill="#000"/>
<rect x="364.65" y="401.2" width="6.6" height="5.20" fill="none" stroke="#55A5F7" stroke-width="1"/>
<line x1="367.95" x2="367.95" y1="396.5" y2="401.2" stroke="#55A5F7" stroke-width="1" stroke-dasharray="2 1.5"/>
<line x1="364.65" x2="371.25" y1="396.5" y2="396.5" stroke="#55A5F7" stroke-width="1" stroke-dasharray="2.4 1.8"/>
<line x1="364.65" x2="371.25" y1="406.4" y2="406.4" stroke="#55A5F7" stroke-width="1" stroke-dasharray="2.4 1.8"/>
<circle cx="367.95" cy="396.0" r="1.3" fill="none" stroke="#55A5F7" stroke-width="0.8"/>
<circle cx="367.95" cy="403.8" r="1.8" fill="#000"/>
<rect x="377.00" y="370.8" width="6.6" height="6.60" fill="none" stroke="#55A5F7" stroke-width="1"/>
<line x1="380.30" x2="380.30" y1="366.0" y2="370.8" stroke="#55A5F7" stroke-width="1" stroke-dasharray="2 1.5"/>
<line x1="380.30" x2="380.30" y1="377.4" y2="386.4" stroke="#55A5F7" stroke-width="1" stroke-dasharray="2 1.5"/>
<line x1="377.00" x2="383.60" y1="366.0" y2="366.0" stroke="#55A5F7" stroke-width="1" stroke-dasharray="2.4 1.8"/>
<line x1="377.00" x2="383.60" y1="386.4" y2="386.4" stroke="#55A5F7" stroke-width="1" stroke-dasharray="2.4 1.8"/>
<circle cx="380.30" cy="388.5" r="1.3" fill="none" stroke="#55A5F7" stroke-width="0.8"/>
<circle cx="380.30" cy="373.8" r="1.8" fill="#000"/>
<rect x="400.7" y="149.0" width="64.30000000000001" height="8.199999999999989" fill="#FDE5CB"/>
<line x1="400.7" x2="465.0" y1="149.0" y2="149.0" stroke="#6E6252" stroke-width="1"/>
<line x1="400.7" x2="465.0" y1="157.2" y2="157.2" stroke="#6E6252" stroke-width="1"/>
<text x="432.25" y="156.10" font-size="6.6" fill="#2a2a2a" text-anchor="middle" textLength="11.00" lengthAdjust="spacingAndGlyphs" >B12</text>
<rect x="400.7" y="157.2" width="64.30000000000001" height="61.10000000000002" fill="#FFFFFF" stroke="#7E7E7E" stroke-width="1"/>
<line x1="400.7" x2="400.7" y1="149.0" y2="157.2" stroke="#7E7E7E" stroke-width="1"/>
<line x1="465.0" x2="465.0" y1="149.0" y2="157.2" stroke="#7E7E7E" stroke-width="1"/>
<line x1="397.7" x2="400.7" y1="160.6" y2="160.6" stroke="#555" stroke-width="0.8"/>
<line x1="397.7" x2="400.7" y1="180.4" y2="180.4" stroke="#555" stroke-width="0.8"/>
<line x1="397.7" x2="400.7" y1="199.4" y2="199.4" stroke="#555" stroke-width="0.8"/>
<text x="396.50" y="163.00" font-size="7.7" fill="#333" text-anchor="middle" textLength="14.00" lengthAdjust="spacingAndGlyphs" transform="rotate(-90 396.50 163.00)" stroke="#333" stroke-width="0.28">0.15</text>
<text x="396.50" y="183.90" font-size="7.7" fill="#333" text-anchor="middle" textLength="8.50" lengthAdjust="spacingAndGlyphs" transform="rotate(-90 396.50 183.90)" stroke="#333" stroke-width="0.28">0.1</text>
<text x="396.50" y="198.70" font-size="7.7" fill="#333" text-anchor="middle" textLength="15.00" lengthAdjust="spacingAndGlyphs" transform="rotate(-90 396.50 198.70)" stroke="#333" stroke-width="0.28">0.05</text>
<rect x="404.10" y="187.1" width="6.6" height="13.00" fill="none" stroke="#55A5F7" stroke-width="1"/>
<line x1="407.40" x2="407.40" y1="179.7" y2="187.1" stroke="#55A5F7" stroke-width="1" stroke-dasharray="2 1.5"/>
<line x1="407.40" x2="407.40" y1="200.1" y2="203.1" stroke="#55A5F7" stroke-width="1" stroke-dasharray="2 1.5"/>
<line x1="404.10" x2="410.70" y1="179.7" y2="179.7" stroke="#55A5F7" stroke-width="1" stroke-dasharray="2.4 1.8"/>
<line x1="404.10" x2="410.70" y1="203.1" y2="203.1" stroke="#55A5F7" stroke-width="1" stroke-dasharray="2.4 1.8"/>
<circle cx="407.40" cy="192.2" r="1.8" fill="#000"/>
<rect x="416.45" y="174.5" width="6.6" height="9.50" fill="none" stroke="#55A5F7" stroke-width="1"/>
<line x1="419.75" x2="419.75" y1="166.7" y2="174.5" stroke="#55A5F7" stroke-width="1" stroke-dasharray="2 1.5"/>
<line x1="419.75" x2="419.75" y1="184.0" y2="191.8" stroke="#55A5F7" stroke-width="1" stroke-dasharray="2 1.5"/>
<line x1="416.45" x2="423.05" y1="166.7" y2="166.7" stroke="#55A5F7" stroke-width="1" stroke-dasharray="2.4 1.8"/>
<line x1="416.45" x2="423.05" y1="191.8" y2="191.8" stroke="#55A5F7" stroke-width="1" stroke-dasharray="2.4 1.8"/>
<circle cx="419.75" cy="180.0" r="1.8" fill="#000"/>
<rect x="428.80" y="210.9" width="6.6" height="4.30" fill="none" stroke="#55A5F7" stroke-width="1"/>
<line x1="428.80" x2="435.40" y1="210.9" y2="210.9" stroke="#55A5F7" stroke-width="1" stroke-dasharray="2.4 1.8"/>
<line x1="428.80" x2="435.40" y1="215.2" y2="215.2" stroke="#55A5F7" stroke-width="1" stroke-dasharray="2.4 1.8"/>
<circle cx="432.10" cy="205.3" r="1.3" fill="none" stroke="#55A5F7" stroke-width="0.8"/>
<circle cx="432.10" cy="212.6" r="1.8" fill="#000"/>
<rect x="441.15" y="193.2" width="6.6" height="6.40" fill="none" stroke="#55A5F7" stroke-width="1"/>
<line x1="444.45" x2="444.45" y1="185.2" y2="193.2" stroke="#55A5F7" stroke-width="1" stroke-dasharray="2 1.5"/>
<line x1="444.45" x2="444.45" y1="199.6" y2="203.6" stroke="#55A5F7" stroke-width="1" stroke-dasharray="2 1.5"/>
<line x1="441.15" x2="447.75" y1="185.2" y2="185.2" stroke="#55A5F7" stroke-width="1" stroke-dasharray="2.4 1.8"/>
<line x1="441.15" x2="447.75" y1="203.6" y2="203.6" stroke="#55A5F7" stroke-width="1" stroke-dasharray="2.4 1.8"/>
<circle cx="444.45" cy="181.4" r="1.3" fill="none" stroke="#55A5F7" stroke-width="0.8"/>
<circle cx="444.45" cy="194.8" r="1.8" fill="#000"/>
<rect x="453.50" y="162.3" width="6.6" height="7.80" fill="none" stroke="#55A5F7" stroke-width="1"/>
<line x1="456.80" x2="456.80" y1="161.0" y2="162.3" stroke="#55A5F7" stroke-width="1" stroke-dasharray="2 1.5"/>
<line x1="456.80" x2="456.80" y1="170.1" y2="175.3" stroke="#55A5F7" stroke-width="1" stroke-dasharray="2 1.5"/>
<line x1="453.50" x2="460.10" y1="161.0" y2="161.0" stroke="#55A5F7" stroke-width="1" stroke-dasharray="2.4 1.8"/>
<line x1="453.50" x2="460.10" y1="175.3" y2="175.3" stroke="#55A5F7" stroke-width="1" stroke-dasharray="2.4 1.8"/>
<circle cx="456.80" cy="181.4" r="1.3" fill="none" stroke="#55A5F7" stroke-width="0.8"/>
<circle cx="456.80" cy="185.7" r="1.3" fill="none" stroke="#55A5F7" stroke-width="0.8"/>
<circle cx="456.80" cy="166.7" r="1.8" fill="#000"/>
<rect x="400.7" y="355.6" width="64.30000000000001" height="6.899999999999977" fill="#FDE5CB"/>
<line x1="400.7" x2="465.0" y1="355.6" y2="355.6" stroke="#6E6252" stroke-width="1"/>
<line x1="400.7" x2="465.0" y1="362.5" y2="362.5" stroke="#6E6252" stroke-width="1"/>
<text x="432.25" y="361.40" font-size="6.6" fill="#2a2a2a" text-anchor="middle" textLength="11.00" lengthAdjust="spacingAndGlyphs" >B12</text>
<rect x="400.7" y="362.5" width="64.30000000000001" height="52.69999999999999" fill="#FFFFFF" stroke="#7E7E7E" stroke-width="1"/>
<line x1="400.7" x2="400.7" y1="355.6" y2="362.5" stroke="#7E7E7E" stroke-width="1"/>
<line x1="465.0" x2="465.0" y1="355.6" y2="362.5" stroke="#7E7E7E" stroke-width="1"/>
<line x1="397.7" x2="400.7" y1="363.2" y2="363.2" stroke="#555" stroke-width="0.8"/>
<line x1="397.7" x2="400.7" y1="373.2" y2="373.2" stroke="#555" stroke-width="0.8"/>
<line x1="397.7" x2="400.7" y1="383.4" y2="383.4" stroke="#555" stroke-width="0.8"/>
<line x1="397.7" x2="400.7" y1="393.8" y2="393.8" stroke="#555" stroke-width="0.8"/>
<line x1="397.7" x2="400.7" y1="403.9" y2="403.9" stroke="#555" stroke-width="0.8"/>
<line x1="397.7" x2="400.7" y1="413.9" y2="413.9" stroke="#555" stroke-width="0.8"/>
<text x="396.50" y="381.80" font-size="7.1" fill="#333" text-anchor="middle" textLength="12.30" lengthAdjust="spacingAndGlyphs" transform="rotate(-90 396.50 381.80)" stroke="#333" stroke-width="0.28">0.15</text>
<text x="396.50" y="403.20" font-size="7.1" fill="#333" text-anchor="middle" textLength="13.60" lengthAdjust="spacingAndGlyphs" transform="rotate(-90 396.50 403.20)" stroke="#333" stroke-width="0.28">0.05</text>
<rect x="404.10" y="402.0" width="6.6" height="7.00" fill="none" stroke="#55A5F7" stroke-width="1"/>
<line x1="407.40" x2="407.40" y1="400.0" y2="402.0" stroke="#55A5F7" stroke-width="1" stroke-dasharray="2 1.5"/>
<line x1="404.10" x2="410.70" y1="400.0" y2="400.0" stroke="#55A5F7" stroke-width="1" stroke-dasharray="2.4 1.8"/>
<line x1="404.10" x2="410.70" y1="409.0" y2="409.0" stroke="#55A5F7" stroke-width="1" stroke-dasharray="2.4 1.8"/>
<circle cx="407.40" cy="405.1" r="1.8" fill="#000"/>
<rect x="416.45" y="398.6" width="6.6" height="5.20" fill="none" stroke="#55A5F7" stroke-width="1"/>
<line x1="419.75" x2="419.75" y1="392.1" y2="398.6" stroke="#55A5F7" stroke-width="1" stroke-dasharray="2 1.5"/>
<line x1="419.75" x2="419.75" y1="403.8" y2="407.6" stroke="#55A5F7" stroke-width="1" stroke-dasharray="2 1.5"/>
<line x1="416.45" x2="423.05" y1="392.1" y2="392.1" stroke="#55A5F7" stroke-width="1" stroke-dasharray="2.4 1.8"/>
<line x1="416.45" x2="423.05" y1="407.6" y2="407.6" stroke="#55A5F7" stroke-width="1" stroke-dasharray="2.4 1.8"/>
<circle cx="419.75" cy="384.7" r="1.3" fill="none" stroke="#55A5F7" stroke-width="0.8"/>
<circle cx="419.75" cy="389.0" r="1.6" fill="#55A5F7" stroke="#55A5F7" stroke-width="0.6"/>
<circle cx="419.75" cy="400.6" r="1.8" fill="#000"/>
<rect x="428.80" y="408.1" width="6.6" height="3.50" fill="none" stroke="#55A5F7" stroke-width="1"/>
<line x1="432.10" x2="432.10" y1="405.5" y2="408.1" stroke="#55A5F7" stroke-width="1" stroke-dasharray="2 1.5"/>
<line x1="428.80" x2="435.40" y1="405.5" y2="405.5" stroke="#55A5F7" stroke-width="1" stroke-dasharray="2.4 1.8"/>
<line x1="428.80" x2="435.40" y1="411.6" y2="411.6" stroke="#55A5F7" stroke-width="1" stroke-dasharray="2.4 1.8"/>
<circle cx="432.10" cy="402.0" r="1.3" fill="none" stroke="#55A5F7" stroke-width="0.8"/>
<circle cx="432.10" cy="409.3" r="1.8" fill="#000"/>
<rect x="441.15" y="405.1" width="6.6" height="2.50" fill="none" stroke="#55A5F7" stroke-width="1"/>
<line x1="444.45" x2="444.45" y1="401.2" y2="405.1" stroke="#55A5F7" stroke-width="1" stroke-dasharray="2 1.5"/>
<line x1="441.15" x2="447.75" y1="401.2" y2="401.2" stroke="#55A5F7" stroke-width="1" stroke-dasharray="2.4 1.8"/>
<line x1="441.15" x2="447.75" y1="407.6" y2="407.6" stroke="#55A5F7" stroke-width="1" stroke-dasharray="2.4 1.8"/>
<circle cx="444.45" cy="400.3" r="1.3" fill="none" stroke="#55A5F7" stroke-width="0.8"/>
<circle cx="444.45" cy="406.4" r="1.8" fill="#000"/>
<rect x="453.50" y="371.7" width="6.6" height="7.40" fill="none" stroke="#55A5F7" stroke-width="1"/>
<line x1="456.80" x2="456.80" y1="366.5" y2="371.7" stroke="#55A5F7" stroke-width="1" stroke-dasharray="2 1.5"/>
<line x1="456.80" x2="456.80" y1="379.1" y2="389.0" stroke="#55A5F7" stroke-width="1" stroke-dasharray="2 1.5"/>
<line x1="453.50" x2="460.10" y1="366.5" y2="366.5" stroke="#55A5F7" stroke-width="1" stroke-dasharray="2.4 1.8"/>
<line x1="453.50" x2="460.10" y1="389.0" y2="389.0" stroke="#55A5F7" stroke-width="1" stroke-dasharray="2.4 1.8"/>
<circle cx="456.80" cy="375.7" r="1.8" fill="#000"/>
<rect x="478.0" y="149.0" width="64.29999999999995" height="8.199999999999989" fill="#FDE5CB"/>
<line x1="478.0" x2="542.3" y1="149.0" y2="149.0" stroke="#6E6252" stroke-width="1"/>
<line x1="478.0" x2="542.3" y1="157.2" y2="157.2" stroke="#6E6252" stroke-width="1"/>
<text x="509.55" y="156.10" font-size="6.6" fill="#2a2a2a" text-anchor="middle" textLength="11.00" lengthAdjust="spacingAndGlyphs" >B03</text>
<rect x="478.0" y="157.2" width="64.29999999999995" height="61.10000000000002" fill="#FFFFFF" stroke="#7E7E7E" stroke-width="1"/>
<line x1="478.0" x2="478.0" y1="149.0" y2="157.2" stroke="#7E7E7E" stroke-width="1"/>
<line x1="542.3" x2="542.3" y1="149.0" y2="157.2" stroke="#7E7E7E" stroke-width="1"/>
<line x1="475.0" x2="478.0" y1="159.9" y2="159.9" stroke="#555" stroke-width="0.8"/>
<line x1="475.0" x2="478.0" y1="174" y2="174" stroke="#555" stroke-width="0.8"/>
<line x1="475.0" x2="478.0" y1="187.7" y2="187.7" stroke="#555" stroke-width="0.8"/>
<line x1="475.0" x2="478.0" y1="200.8" y2="200.8" stroke="#555" stroke-width="0.8"/>
<line x1="475.0" x2="478.0" y1="214.2" y2="214.2" stroke="#555" stroke-width="0.8"/>
<text x="473.80" y="160.00" font-size="6.8" fill="#333" text-anchor="middle" textLength="11.00" lengthAdjust="spacingAndGlyphs" transform="rotate(-90 473.80 160.00)" stroke="#333" stroke-width="0.28">0.08</text>
<text x="473.80" y="173.30" font-size="6.8" fill="#333" text-anchor="middle" textLength="11.30" lengthAdjust="spacingAndGlyphs" transform="rotate(-90 473.80 173.30)" stroke="#333" stroke-width="0.28">0.06</text>
<text x="473.80" y="188.00" font-size="6.8" fill="#333" text-anchor="middle" textLength="11.20" lengthAdjust="spacingAndGlyphs" transform="rotate(-90 473.80 188.00)" stroke="#333" stroke-width="0.28">0.04</text>
<text x="473.80" y="201.80" font-size="6.8" fill="#333" text-anchor="middle" textLength="10.60" lengthAdjust="spacingAndGlyphs" transform="rotate(-90 473.80 201.80)" stroke="#333" stroke-width="0.28">0.02</text>
<text x="473.80" y="214.20" font-size="6.8" fill="#333" text-anchor="middle" textLength="4.30" lengthAdjust="spacingAndGlyphs" transform="rotate(-90 473.80 214.20)" stroke="#333" stroke-width="0.28">0</text>
<rect x="481.40" y="177.6" width="6.6" height="7.80" fill="none" stroke="#55A5F7" stroke-width="1"/>
<line x1="484.70" x2="484.70" y1="169.8" y2="177.6" stroke="#55A5F7" stroke-width="1" stroke-dasharray="2 1.5"/>
<line x1="484.70" x2="484.70" y1="185.4" y2="195.3" stroke="#55A5F7" stroke-width="1" stroke-dasharray="2 1.5"/>
<line x1="481.40" x2="488.00" y1="169.8" y2="169.8" stroke="#55A5F7" stroke-width="1" stroke-dasharray="2.4 1.8"/>
<line x1="481.40" x2="488.00" y1="195.3" y2="195.3" stroke="#55A5F7" stroke-width="1" stroke-dasharray="2.4 1.8"/>
<circle cx="484.70" cy="163.7" r="1.3" fill="none" stroke="#55A5F7" stroke-width="0.8"/>
<circle cx="484.70" cy="199.2" r="1.3" fill="none" stroke="#55A5F7" stroke-width="0.8"/>
<circle cx="484.70" cy="180.6" r="1.8" fill="#000"/>
<rect x="493.75" y="175.4" width="6.6" height="9.20" fill="none" stroke="#55A5F7" stroke-width="1"/>
<line x1="497.05" x2="497.05" y1="164.4" y2="175.4" stroke="#55A5F7" stroke-width="1" stroke-dasharray="2 1.5"/>
<line x1="497.05" x2="497.05" y1="184.6" y2="194.5" stroke="#55A5F7" stroke-width="1" stroke-dasharray="2 1.5"/>
<line x1="493.75" x2="500.35" y1="164.4" y2="164.4" stroke="#55A5F7" stroke-width="1" stroke-dasharray="2.4 1.8"/>
<line x1="493.75" x2="500.35" y1="194.5" y2="194.5" stroke="#55A5F7" stroke-width="1" stroke-dasharray="2.4 1.8"/>
<circle cx="497.05" cy="161.5" r="1.3" fill="none" stroke="#55A5F7" stroke-width="0.8"/>
<circle cx="497.05" cy="179.4" r="1.8" fill="#000"/>
<rect x="506.10" y="205.8" width="6.6" height="9.20" fill="none" stroke="#55A5F7" stroke-width="1"/>
<line x1="506.10" x2="512.70" y1="205.8" y2="205.8" stroke="#55A5F7" stroke-width="1" stroke-dasharray="2.4 1.8"/>
<line x1="506.10" x2="512.70" y1="215.0" y2="215.0" stroke="#55A5F7" stroke-width="1" stroke-dasharray="2.4 1.8"/>
<circle cx="509.40" cy="207.5" r="1.8" fill="#000"/>
<rect x="518.45" y="187.5" width="6.6" height="4.70" fill="none" stroke="#55A5F7" stroke-width="1"/>
<line x1="521.75" x2="521.75" y1="182.3" y2="187.5" stroke="#55A5F7" stroke-width="1" stroke-dasharray="2 1.5"/>
<line x1="521.75" x2="521.75" y1="192.2" y2="198.5" stroke="#55A5F7" stroke-width="1" stroke-dasharray="2 1.5"/>
<line x1="518.45" x2="525.05" y1="182.3" y2="182.3" stroke="#55A5F7" stroke-width="1" stroke-dasharray="2.4 1.8"/>
<line x1="518.45" x2="525.05" y1="198.5" y2="198.5" stroke="#55A5F7" stroke-width="1" stroke-dasharray="2.4 1.8"/>
<circle cx="521.75" cy="177.1" r="1.3" fill="none" stroke="#55A5F7" stroke-width="0.8"/>
<circle cx="521.75" cy="190.1" r="1.8" fill="#000"/>
<rect x="530.80" y="168.4" width="6.6" height="9.20" fill="none" stroke="#55A5F7" stroke-width="1"/>
<line x1="534.10" x2="534.10" y1="161.0" y2="168.4" stroke="#55A5F7" stroke-width="1" stroke-dasharray="2 1.5"/>
<line x1="534.10" x2="534.10" y1="177.6" y2="185.3" stroke="#55A5F7" stroke-width="1" stroke-dasharray="2 1.5"/>
<line x1="530.80" x2="537.40" y1="161.0" y2="161.0" stroke="#55A5F7" stroke-width="1" stroke-dasharray="2.4 1.8"/>
<line x1="530.80" x2="537.40" y1="185.3" y2="185.3" stroke="#55A5F7" stroke-width="1" stroke-dasharray="2.4 1.8"/>
<circle cx="534.10" cy="171.4" r="1.8" fill="#000"/>
<rect x="478.0" y="355.6" width="64.29999999999995" height="6.899999999999977" fill="#FDE5CB"/>
<line x1="478.0" x2="542.3" y1="355.6" y2="355.6" stroke="#6E6252" stroke-width="1"/>
<line x1="478.0" x2="542.3" y1="362.5" y2="362.5" stroke="#6E6252" stroke-width="1"/>
<text x="509.55" y="361.40" font-size="6.6" fill="#2a2a2a" text-anchor="middle" textLength="11.00" lengthAdjust="spacingAndGlyphs" >B03</text>
<rect x="478.0" y="362.5" width="64.29999999999995" height="52.69999999999999" fill="#FFFFFF" stroke="#7E7E7E" stroke-width="1"/>
<line x1="478.0" x2="478.0" y1="355.6" y2="362.5" stroke="#7E7E7E" stroke-width="1"/>
<line x1="542.3" x2="542.3" y1="355.6" y2="362.5" stroke="#7E7E7E" stroke-width="1"/>
<line x1="475.0" x2="478.0" y1="365.8" y2="365.8" stroke="#555" stroke-width="0.8"/>
<line x1="475.0" x2="478.0" y1="375.6" y2="375.6" stroke="#555" stroke-width="0.8"/>
<line x1="475.0" x2="478.0" y1="384.7" y2="384.7" stroke="#555" stroke-width="0.8"/>
<line x1="475.0" x2="478.0" y1="394.4" y2="394.4" stroke="#555" stroke-width="0.8"/>
<line x1="475.0" x2="478.0" y1="403.5" y2="403.5" stroke="#555" stroke-width="0.8"/>
<line x1="475.0" x2="478.0" y1="413.2" y2="413.2" stroke="#555" stroke-width="0.8"/>
<text x="473.80" y="372.30" font-size="5.7" fill="#333" text-anchor="middle" textLength="9.10" lengthAdjust="spacingAndGlyphs" transform="rotate(-90 473.80 372.30)" stroke="#333" stroke-width="0.28">0.08</text>
<text x="473.80" y="384.00" font-size="5.7" fill="#333" text-anchor="middle" textLength="8.00" lengthAdjust="spacingAndGlyphs" transform="rotate(-90 473.80 384.00)" stroke="#333" stroke-width="0.28">0.06</text>
<text x="473.80" y="394.80" font-size="5.7" fill="#333" text-anchor="middle" textLength="8.50" lengthAdjust="spacingAndGlyphs" transform="rotate(-90 473.80 394.80)" stroke="#333" stroke-width="0.28">0.04</text>
<text x="473.80" y="406.00" font-size="5.7" fill="#333" text-anchor="middle" textLength="7.80" lengthAdjust="spacingAndGlyphs" transform="rotate(-90 473.80 406.00)" stroke="#333" stroke-width="0.28">0.02</text>
<text x="473.80" y="414.20" font-size="5.7" fill="#333" text-anchor="middle" textLength="3.20" lengthAdjust="spacingAndGlyphs" transform="rotate(-90 473.80 414.20)" stroke="#333" stroke-width="0.28">0</text>
<rect x="481.40" y="396.0" width="6.6" height="4.00" fill="none" stroke="#55A5F7" stroke-width="1"/>
<line x1="484.70" x2="484.70" y1="391.7" y2="396.0" stroke="#55A5F7" stroke-width="1" stroke-dasharray="2 1.5"/>
<line x1="484.70" x2="484.70" y1="400.0" y2="404.2" stroke="#55A5F7" stroke-width="1" stroke-dasharray="2 1.5"/>
<line x1="481.40" x2="488.00" y1="391.7" y2="391.7" stroke="#55A5F7" stroke-width="1" stroke-dasharray="2.4 1.8"/>
<line x1="481.40" x2="488.00" y1="404.2" y2="404.2" stroke="#55A5F7" stroke-width="1" stroke-dasharray="2.4 1.8"/>
<circle cx="484.70" cy="389.0" r="1.3" fill="none" stroke="#55A5F7" stroke-width="0.8"/>
<circle cx="484.70" cy="397.7" r="1.8" fill="#000"/>
<rect x="493.75" y="393.7" width="6.6" height="6.30" fill="none" stroke="#55A5F7" stroke-width="1"/>
<line x1="497.05" x2="497.05" y1="386.5" y2="393.7" stroke="#55A5F7" stroke-width="1" stroke-dasharray="2 1.5"/>
<line x1="497.05" x2="497.05" y1="400.0" y2="403.5" stroke="#55A5F7" stroke-width="1" stroke-dasharray="2 1.5"/>
<line x1="493.75" x2="500.35" y1="386.5" y2="386.5" stroke="#55A5F7" stroke-width="1" stroke-dasharray="2.4 1.8"/>
<line x1="493.75" x2="500.35" y1="403.5" y2="403.5" stroke="#55A5F7" stroke-width="1" stroke-dasharray="2.4 1.8"/>
<circle cx="497.05" cy="382.6" r="1.6" fill="#55A5F7" stroke="#55A5F7" stroke-width="0.6"/>
<circle cx="497.05" cy="396.9" r="1.8" fill="#000"/>
<rect x="506.10" y="404.7" width="6.6" height="5.20" fill="none" stroke="#55A5F7" stroke-width="1"/>
<line x1="509.40" x2="509.40" y1="401.7" y2="404.7" stroke="#55A5F7" stroke-width="1" stroke-dasharray="2 1.5"/>
<line x1="509.40" x2="509.40" y1="409.9" y2="411.6" stroke="#55A5F7" stroke-width="1" stroke-dasharray="2 1.5"/>
<line x1="506.10" x2="512.70" y1="401.7" y2="401.7" stroke="#55A5F7" stroke-width="1" stroke-dasharray="2.4 1.8"/>
<line x1="506.10" x2="512.70" y1="411.6" y2="411.6" stroke="#55A5F7" stroke-width="1" stroke-dasharray="2.4 1.8"/>
<circle cx="509.40" cy="407.3" r="1.8" fill="#000"/>
<rect x="518.45" y="400.3" width="6.6" height="3.50" fill="none" stroke="#55A5F7" stroke-width="1"/>
<line x1="521.75" x2="521.75" y1="397.2" y2="400.3" stroke="#55A5F7" stroke-width="1" stroke-dasharray="2 1.5"/>
<line x1="521.75" x2="521.75" y1="403.8" y2="405.2" stroke="#55A5F7" stroke-width="1" stroke-dasharray="2 1.5"/>
<line x1="518.45" x2="525.05" y1="397.2" y2="397.2" stroke="#55A5F7" stroke-width="1" stroke-dasharray="2.4 1.8"/>
<line x1="518.45" x2="525.05" y1="405.2" y2="405.2" stroke="#55A5F7" stroke-width="1" stroke-dasharray="2.4 1.8"/>
<circle cx="521.75" cy="396.0" r="1.3" fill="none" stroke="#55A5F7" stroke-width="0.8"/>
<circle cx="521.75" cy="401.7" r="1.8" fill="#000"/>
<rect x="530.80" y="371.7" width="6.6" height="5.70" fill="none" stroke="#55A5F7" stroke-width="1"/>
<line x1="534.10" x2="534.10" y1="366.0" y2="371.7" stroke="#55A5F7" stroke-width="1" stroke-dasharray="2 1.5"/>
<line x1="534.10" x2="534.10" y1="377.4" y2="384.7" stroke="#55A5F7" stroke-width="1" stroke-dasharray="2 1.5"/>
<line x1="530.80" x2="537.40" y1="366.0" y2="366.0" stroke="#55A5F7" stroke-width="1" stroke-dasharray="2.4 1.8"/>
<line x1="530.80" x2="537.40" y1="384.7" y2="384.7" stroke="#55A5F7" stroke-width="1" stroke-dasharray="2.4 1.8"/>
<circle cx="534.10" cy="387.3" r="1.3" fill="none" stroke="#55A5F7" stroke-width="0.8"/>
<circle cx="534.10" cy="374.3" r="1.8" fill="#000"/>
<text x="333.20" y="445.40" font-size="7.2" fill="#222" text-anchor="start" textLength="25.90" lengthAdjust="spacingAndGlyphs" transform="rotate(-90 333.20 445.40)" stroke="#222" stroke-width="0.2">healthy</text>
<text x="347.50" y="457.00" font-size="7.2" fill="#222" text-anchor="start" textLength="38.20" lengthAdjust="spacingAndGlyphs" transform="rotate(-90 347.50 457.00)" stroke="#222" stroke-width="0.2">red_attack</text>
<text x="361.20" y="454.00" font-size="7.2" fill="#222" text-anchor="start" textLength="31.80" lengthAdjust="spacingAndGlyphs" transform="rotate(-90 361.20 454.00)" stroke="#222" stroke-width="0.2">shadows</text>
<text x="372.10" y="453.60" font-size="7.2" fill="#222" text-anchor="start" textLength="30.00" lengthAdjust="spacingAndGlyphs" transform="rotate(-90 372.10 453.60)" stroke="#222" stroke-width="0.2">stressed</text>
<text x="385.20" y="445.40" font-size="7.2" fill="#222" text-anchor="start" textLength="14.30" lengthAdjust="spacingAndGlyphs" transform="rotate(-90 385.20 445.40)" stroke="#222" stroke-width="0.2">vaia</text>
<text x="413.40" y="444.90" font-size="7.2" fill="#222" text-anchor="start" textLength="24.00" lengthAdjust="spacingAndGlyphs" transform="rotate(-90 413.40 444.90)" stroke="#222" stroke-width="0.2">healthy</text>
<text x="425.80" y="456.30" font-size="7.2" fill="#222" text-anchor="start" textLength="35.30" lengthAdjust="spacingAndGlyphs" transform="rotate(-90 425.80 456.30)" stroke="#222" stroke-width="0.2">red_attack</text>
<text x="438.30" y="452.90" font-size="7.2" fill="#222" text-anchor="start" textLength="29.10" lengthAdjust="spacingAndGlyphs" transform="rotate(-90 438.30 452.90)" stroke="#222" stroke-width="0.2">shadows</text>
<text x="449.80" y="452.20" font-size="7.2" fill="#222" text-anchor="start" textLength="28.20" lengthAdjust="spacingAndGlyphs" transform="rotate(-90 449.80 452.20)" stroke="#222" stroke-width="0.2">stressed</text>
<text x="461.70" y="444.20" font-size="7.2" fill="#222" text-anchor="start" textLength="13.80" lengthAdjust="spacingAndGlyphs" transform="rotate(-90 461.70 444.20)" stroke="#222" stroke-width="0.2">vaia</text>
<text x="490.50" y="444.00" font-size="7.2" fill="#222" text-anchor="start" textLength="23.50" lengthAdjust="spacingAndGlyphs" transform="rotate(-90 490.50 444.00)" stroke="#222" stroke-width="0.2">healthy</text>
<text x="502.80" y="455.00" font-size="7.2" fill="#222" text-anchor="start" textLength="36.20" lengthAdjust="spacingAndGlyphs" transform="rotate(-90 502.80 455.00)" stroke="#222" stroke-width="0.2">red_attack</text>
<text x="515.00" y="451.80" font-size="7.2" fill="#222" text-anchor="start" textLength="29.20" lengthAdjust="spacingAndGlyphs" transform="rotate(-90 515.00 451.80)" stroke="#222" stroke-width="0.2">shadows</text>
<text x="526.00" y="451.50" font-size="7.2" fill="#222" text-anchor="start" textLength="27.90" lengthAdjust="spacingAndGlyphs" transform="rotate(-90 526.00 451.50)" stroke="#222" stroke-width="0.2">stressed</text>
<text x="538.00" y="443.60" font-size="7.2" fill="#222" text-anchor="start" textLength="13.90" lengthAdjust="spacingAndGlyphs" transform="rotate(-90 538.00 443.60)" stroke="#222" stroke-width="0.2">vaia</text>
</svg></body></html>
